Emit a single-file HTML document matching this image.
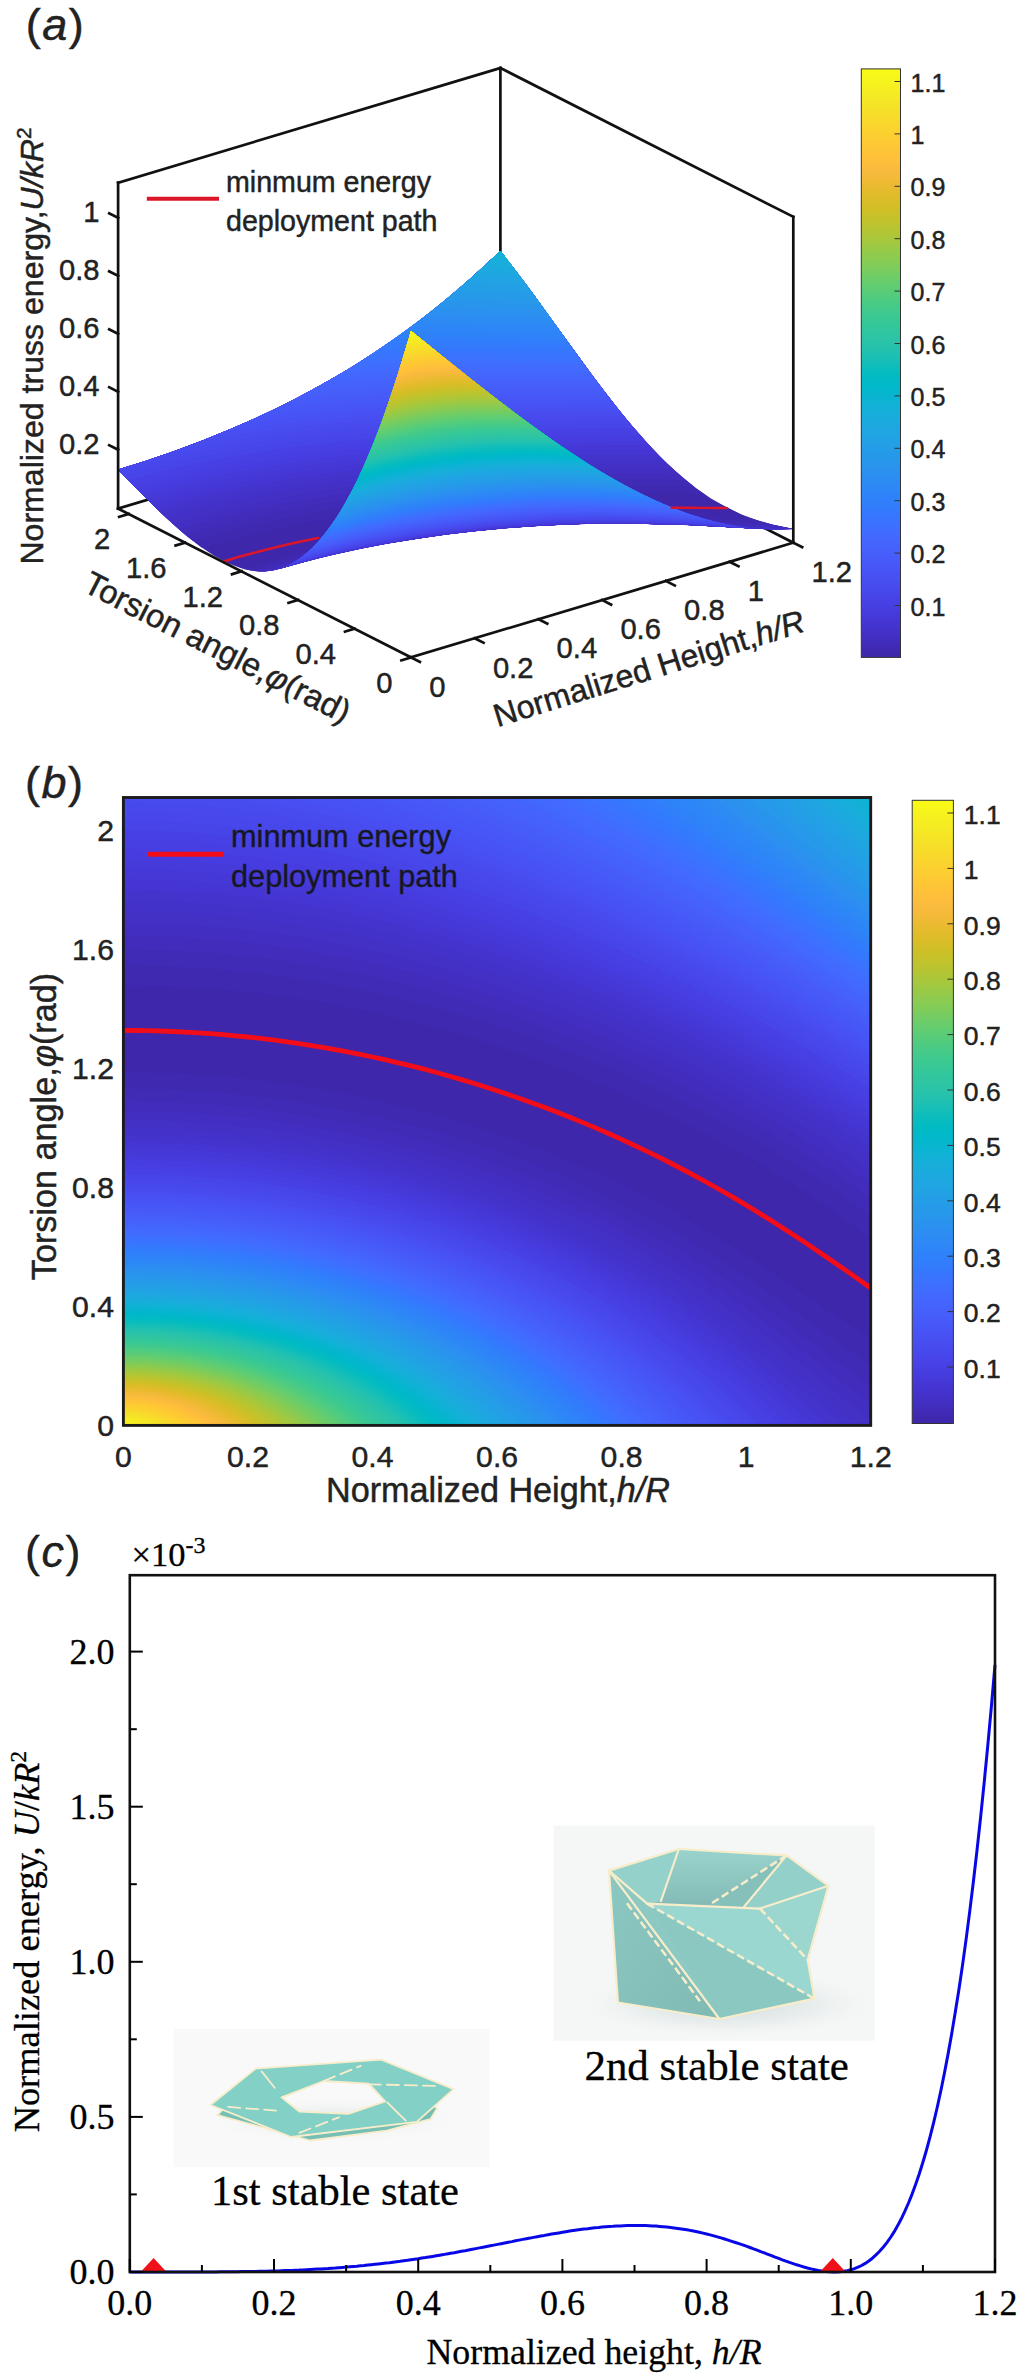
<!DOCTYPE html>
<html><head><meta charset="utf-8"><title>Figure</title>
<style>html,body{margin:0;padding:0;background:#fff}svg{display:block}#pa text,#pb text{stroke:#222;stroke-width:.45px}#pc text{stroke:#000;stroke-width:.3px}</style></head>
<body><svg width="1025" height="2378" viewBox="0 0 1025 2378">
<defs><linearGradient id="cb" x1="0" y1="0" x2="0" y2="1"><stop offset="0.0000" stop-color="#f9fb15"/><stop offset="0.0159" stop-color="#f7f51b"/><stop offset="0.0317" stop-color="#f6ef20"/><stop offset="0.0476" stop-color="#f5e924"/><stop offset="0.0635" stop-color="#f5e327"/><stop offset="0.0794" stop-color="#f7dc2a"/><stop offset="0.0952" stop-color="#fad62d"/><stop offset="0.1111" stop-color="#fccf30"/><stop offset="0.1270" stop-color="#fec934"/><stop offset="0.1429" stop-color="#fec338"/><stop offset="0.1587" stop-color="#febe3c"/><stop offset="0.1746" stop-color="#f8ba3d"/><stop offset="0.1905" stop-color="#f0ba36"/><stop offset="0.2063" stop-color="#e6bb2d"/><stop offset="0.2222" stop-color="#dcbd29"/><stop offset="0.2381" stop-color="#d1bf27"/><stop offset="0.2540" stop-color="#c5c22a"/><stop offset="0.2698" stop-color="#b9c431"/><stop offset="0.2857" stop-color="#abc739"/><stop offset="0.3016" stop-color="#9dc943"/><stop offset="0.3175" stop-color="#8fcb4e"/><stop offset="0.3333" stop-color="#81cc59"/><stop offset="0.3492" stop-color="#72cd64"/><stop offset="0.3651" stop-color="#64cd6f"/><stop offset="0.3810" stop-color="#57cc7a"/><stop offset="0.3968" stop-color="#4acb84"/><stop offset="0.4127" stop-color="#3fca8e"/><stop offset="0.4286" stop-color="#37c897"/><stop offset="0.4444" stop-color="#31c69f"/><stop offset="0.4603" stop-color="#2cc4a7"/><stop offset="0.4762" stop-color="#24c1ae"/><stop offset="0.4921" stop-color="#19bfb6"/><stop offset="0.5079" stop-color="#0bbdbd"/><stop offset="0.5238" stop-color="#02bac3"/><stop offset="0.5397" stop-color="#01b8ca"/><stop offset="0.5556" stop-color="#08b5d0"/><stop offset="0.5714" stop-color="#12b1d6"/><stop offset="0.5873" stop-color="#18addb"/><stop offset="0.6032" stop-color="#1ca9df"/><stop offset="0.6190" stop-color="#20a5e3"/><stop offset="0.6349" stop-color="#23a0e5"/><stop offset="0.6508" stop-color="#259be8"/><stop offset="0.6667" stop-color="#2797eb"/><stop offset="0.6825" stop-color="#2b91ef"/><stop offset="0.6984" stop-color="#2d8cf3"/><stop offset="0.7143" stop-color="#2e87f7"/><stop offset="0.7302" stop-color="#2f81fa"/><stop offset="0.7460" stop-color="#327cfc"/><stop offset="0.7619" stop-color="#3875fe"/><stop offset="0.7778" stop-color="#3e6fff"/><stop offset="0.7937" stop-color="#4269fe"/><stop offset="0.8095" stop-color="#4563fd"/><stop offset="0.8254" stop-color="#465efb"/><stop offset="0.8413" stop-color="#4758f8"/><stop offset="0.8571" stop-color="#4852f4"/><stop offset="0.8730" stop-color="#484df0"/><stop offset="0.8889" stop-color="#4747eb"/><stop offset="0.9048" stop-color="#4741e5"/><stop offset="0.9206" stop-color="#463cde"/><stop offset="0.9365" stop-color="#4537d5"/><stop offset="0.9524" stop-color="#4332cb"/><stop offset="0.9683" stop-color="#422ec0"/><stop offset="0.9841" stop-color="#402ab4"/><stop offset="1.0000" stop-color="#3e26a8"/></linearGradient></defs>
<rect width="1025" height="2378" fill="#fff"/>
<g id="pa" font-family="'Liberation Sans',Arial,sans-serif">
<g stroke-linecap="square">
<line x1="118.1" y1="508.6" x2="500.4" y2="393.9" stroke="#111" stroke-width="2.7"/>
<line x1="793.3" y1="542.7" x2="500.4" y2="393.9" stroke="#111" stroke-width="2.7"/>
<line x1="500.4" y1="393.9" x2="500.4" y2="68" stroke="#111" stroke-width="2.7"/>
</g>
<g fill-rule="evenodd"><path d="M761.5 529l16 0.5 16-0.5-18.5-3.5-17-5-16.5-6-15.5-7.5-15-8.5-14.5-10-15-11.5-14.5-13.5-13-12.5-13.5-14.5-14-16.5-14.5-18.5-26-34.5-59.5-82-26-34-20 18.5-20.5 18.5-21 17.5-20.5 16-21.5 16-22.5 15-22 14.5-23.5 13.5-23.5 13-25 13-25.5 12-25.5 11-27 11-28 10.5-27.5 9.5-29 9 29 29.5 19.5 19 17 15 16 13 15 10 14 7.5 13.5 5 6.5 1.5 7 1 9 0.5 9-1.5 33-9 27.5-6.5 29.5-6.5 31.5-6 27-4 27.5-4 56-6 30-2 30-1.5 30.5-1 30 0 61 1.5z" fill="#3e27ab"/>
<path d="M761.5 529l16 0.5 16-0.5-21.5-4.5-20.5-6-26 0-75.5-1-40 0.5-48 1-46.5 3-36 3-36.5 4-35 4.5-36 5.5-34 6.5-33 7-31.5 8-30 8.5 7 1.5 6.5 1 7 0 6.5-1 6.5-1 28-8 27-6.5 28-6.5 28.5-5 30.5-5 31.5-4.5 31.5-3.5 32-3 29.5-2 28.5-1 29.5-1 29 0 60 1.5zM705 495l0.5 0-10-7-10-8-18-16-18-18.5-19.5-22-16-19.5-18-23-66.5-91.5-29-38.5-20 18.5-20.5 18.5-21 17.5-20.5 16-21.5 16-22.5 15-22 14.5-23.5 13.5-23.5 13-25 13-25.5 12-25.5 11-27 11-28 10.5-27.5 9.5-29 9 30 30.5 20 19.5 18.5 16.5 16 12 26-7 26-7 27-6 29-6 28.5-5 31-5 33-4.5 32-3.5 33.5-3 35.5-3 35-2 36.5-1.5 36-1 33.5-0.5 31 0.5z" fill="#3f29b0"/>
<path d="M761.5 529l16 0.5 16-0.5-15-3-14-3.5-96.5-2-41 0-39 0.5-39 1.5-37 2.5-36 3-34 4-34 4.5-33.5 5.5-32.5 6-31.5 7-30 7.5-29.5 8 11 1 11-1 35-9.5 28.5-7 31.5-7 32.5-6 52.5-7.5 54.5-5.5 30-2 29.5-1.5 30.5-1 30 0 61 1.5zM693.5 486.5l0.5 0-19-15.5-16-15-17-18.5-17.5-20.5-30-38.5-65-89-29-38.5-20 18.5-20.5 18.5-21 17.5-20.5 16-21.5 16-22.5 15-22 14.5-23.5 13.5-23.5 13-25 13-25.5 12-25.5 11-27 11-28 10.5-27.5 9.5-29 9 44.5 45 16 14.5 14.5 12 25-7 26-7 27.5-6 27-5.5 29-5.5 31-4.5 30.5-4.5 32-3.5 34.5-3.5 33.5-2.5 70.5-4 69.5-1.5 34 0z" fill="#402bb6"/>
<path d="M761.5 529l16 0.5 16-0.5-19-4-87.5-2.5-38.5-0.5-35.5 0-35 0.5-34 1.5-34.5 2.5-34.5 3-33 4-33 4.5-32.5 5-31 6-31 7-29.5 7.5-28 8 9 0 8.5-1.5 31-8.5 26.5-6.5 30-6.5 30-6 27-4 28.5-4 28.5-3.5 29-3 30.5-2 30-1.5 30.5-1 30 0 61 1.5zM685 480l0.5 0-16.5-14.5-17.5-17-15.5-18-16.5-19.5-26.5-34-63.5-87.5-29-38.5-20 18.5-20.5 18.5-21 17.5-20.5 16-21.5 16-22.5 15-22 14.5-23.5 13.5-23.5 13-25 13-25.5 12-25.5 11-27 11-28 10.5-27.5 9.5-29 9 40.5 41 14 13 13 11.5 24-7 25.5-6.5 26.5-6 27.5-6 28-5 31-5 61-7.5 66.5-6.5 71.5-4 70.5-2 34.5 0z" fill="#412cbb"/>
<path d="M761.5 529l16 0.5 16-0.5-10.5-2-95-3.5-48-1-33 0.5-32.5 0.5-32.5 1.5-32.5 2.5-33.5 3-32 3.5-32.5 4.5-32 5.5-31 6-30 6.5-29 7-27.5 8 6-0.5 7-1 29-8 26.5-7 28-6 29-5.5 28-4.5 29-4.5 29-3.5 29.5-2.5 30-2.5 30-1.5 30.5-1 31 0 30.5 0.5 32 1zM678.5 474l-16-14.5-14-14.5-15-17-16.5-20-25-33-62.5-85.5-29-38.5-20 18.5-20.5 18.5-21 17.5-20.5 16-21.5 16-22.5 15-22 14.5-23.5 13.5-23.5 13-25 13-25.5 12-25.5 11-27 11-28 10.5-27.5 9.5-29 9 36 36.5 25 23 24-6.5 25.5-6.5 26-6 28-6 29-5 29-4.5 60.5-8 68.5-6.5 70-4 70.5-2z" fill="#422ec0"/>
<path d="M761.5 529l16 0.5 16-0.5-3-0.5-95.5-4-61-1.5-31.5 0.5-31.5 0.5-31 1.5-30.5 2-33 3-32 4-32 4.5-30.5 5-30 6-30 6.5-28 7-28 8 10-2 29.5-8 29-7.5 49.5-10 28.5-4.5 30-4.5 30-3.5 30.5-3 30-2.5 30-1.5 30.5-1 31 0 30.5 0.5 32 1zM672.5 469l-15.5-15-13-14.5-14-16-15.5-18.5-27.5-36.5-61-84-25.5-33.5-20 18.5-20.5 18.5-21 17.5-20.5 16-21.5 16-22.5 15-22 14.5-23.5 13.5-23.5 13-25 13-25.5 12-25.5 11-27 11-28 10.5-27.5 9.5-29 9 33 33.5 22 21 24-7 25.5-6.5 26-6 27.5-5.5 28-5 29-4.5 60.5-8 66.5-6 72-4.5 71.5-2z" fill="#4330c5"/>
<path d="M761.5 529l12.5 0.5 13.5 0-97.5-4.5-58.5-1.5-31 0-30.5 1-30.5 1.5-30 2-32 3-32 3.5-31 4.5-30.5 5-30 6-29.5 6-28 7.5-26.5 7.5 7-1.5 27-7.5 26.5-7 26-5.5 26.5-5 29.5-5 30-4.5 30-3.5 30.5-3 30-2.5 30-1.5 30.5-1 31 0 30.5 0.5 32 1zM667 463.5l-14.5-14.5-13-14-13.5-16-14.5-18-26.5-35-58.5-81-26-34-20 18.5-20.5 18.5-21 17.5-20.5 16-21.5 16-22.5 15-22 14.5-23.5 13.5-23.5 13-25 13-25.5 12-25.5 11-27 11-28 10.5-27.5 9.5-29 9 29.5 30 19.5 19 23.5-6.5 25.5-6.5 26-6 27.5-5.5 28-5 29-4.5 61-8 66.5-6 70-4.5 73.5-2z" fill="#4332ca"/>
<path d="M761.5 529l18 0.5-74-4-46-1.5 46.5 2zM362 548.5l6-1.5-48.5 10.5-23.5 6.5-22.5 6.5 45.5-12.5zM660.5 459l1.5 0-12.5-13.5-13.5-15-14-16.5-15-18.5-23.5-32-55.5-76.5-27.5-36-20 18.5-20.5 18.5-21 17.5-20.5 16-21.5 16-22.5 15-22 14.5-23.5 13.5-23.5 13-25 13-25.5 12-25.5 11-27 11-28 10.5-27.5 9.5-29 9 44 44 23.5-6.5 25-6.5 26.5-6 26.5-5.5 28-5 28.5-4.5 60-7.5 67-6 70-4.5 72-2.5z" fill="#4434ce"/>
<path d="M761.5 529l10.5 0.5-59-3.5zM657 454l0.5 0-12.5-13-13-14.5-25-31-23.5-32-55.5-76.5-27.5-36-20 18.5-20.5 18.5-21 17.5-20.5 16-21.5 16-22.5 15-22 14.5-23.5 13.5-23.5 13-25 13-25.5 12-25.5 11-27 11-28 10.5-27.5 9.5-29 9 39 39.5 23.5-7 24.5-6 25-6 27.5-5.5 28-5 29-4.5 60.5-7.5 66.5-6.5 70.5-4 73.5-2.5z" fill="#4536d3"/>
<path d="M651.5 449.5l1.5 0-24-26.5-26.5-34-21.5-29-52.5-72.5-28-36.5-20 18.5-20.5 18.5-21 17.5-20.5 16-21.5 16-22.5 15-22 14.5-23.5 13.5-23.5 13-25 13-25.5 12-25.5 11-27 11-28 10.5-27.5 9.5-29 9 34 34.5 23.5-6.5 24.5-6.5 25.5-5.5 26-5.5 27.5-5 29-4.5 60.5-7.5 66.5-6.5 70.5-4 73.5-2.5z" fill="#4538d7"/>
<path d="M648.5 445l-22.5-26-22.5-28.5-22-29.5-53-73.5-28-36.5-20 18.5-20.5 18.5-21 17.5-20.5 16-21.5 16-22.5 15-22 14.5-23.5 13.5-23.5 13-25 13-25.5 12-25.5 11-27 11-28 10.5-27.5 9.5-29 9 29 29.5 23.5-6.5 24.5-6 25.5-6 26.5-5 56-9.5 60.5-7.5 67.5-6 70-4.5 74-2.5z" fill="#463adb"/>
<path d="M644 441l1 0-21.5-25-23.5-30-71-97.5-28.5-37.5-20 18.5-20.5 18.5-21 17.5-20.5 16-21.5 16-22.5 15-22 14.5-23.5 13.5-23.5 13-25 13-25.5 12-25.5 11-27 11-28 10.5-27.5 9.5-29 9 24.5 25 22.5-6.5 24.5-6 25.5-6 26.5-5 55.5-9.5 61-7.5 66.5-6 71.5-4.5 74-2z" fill="#463cdf"/>
<path d="M640.5 436.5l0.5 0-20-23.5-21.5-28-70.5-96.5-28.5-37.5-20 18.5-20.5 18.5-21 17.5-20.5 16-21.5 16-22.5 15-22 14.5-23.5 13.5-23.5 13-25 13-25.5 12-25.5 11-27 11-28 10.5-27.5 9.5-29 9 20 20.5 22.5-6.5 24.5-6.5 24.5-5.5 26.5-5 55.5-9 60-7.5 67.5-6 72-4.5 75-2.5z" fill="#473fe2"/>
<path d="M637 432.5l0.5 0-18.5-22.5-21-26.5-69-95-28.5-37.5-20 18.5-20.5 18.5-21 17.5-20.5 16-21.5 16-22.5 15-22 14.5-23.5 13.5-23.5 13-25 13-25.5 12-25.5 11-27 11-28 10.5-27.5 9.5-29 9 15.5 15.5 22.5-6 24-6 24.5-5.5 26-5.5 27.5-5 28.5-4 60-7.5 67-6 72-4 75.5-2.5z" fill="#4741e5"/>
<path d="M633 428l0.5 0-18-21.5-20-26.5-66-90.5-29-38.5-20 18.5-20.5 18.5-21 17.5-20.5 16-21.5 16-22.5 15-22 14.5-23.5 13.5-23.5 13-25 13-25.5 12-25.5 11-27 11-28 10.5-27.5 9.5-29 9 11 11 22.5-6.5 24-6 24.5-5.5 26.5-5 54.5-9 60.5-7 67-6 72.5-4.5 76.5-2z" fill="#4744e8"/>
<path d="M629 424l1 0-15.5-19-17.5-23-67.5-92.5-29-38.5-20 18.5-20.5 18.5-21 17.5-20.5 16-21.5 16-22.5 15-22 14.5-23.5 13.5-23.5 13-25 13-25.5 12-25.5 11-27 11-28 10.5-27.5 9.5-29 9 6.5 6.5 24-7 26.5-6.5 27.5-6 29-5 30.5-5 32-4.5 34-4 35-3.5 63-4.5 65.5-3.5 68.5-2z" fill="#4747eb"/>
<path d="M626.5 420l0.5 0-16-20-17-22.5-64.5-88-29-38.5-20 18.5-20.5 18.5-21 17.5-20.5 16-21.5 16-22.5 15-22 14.5-23.5 13.5-23.5 13-25 13-25.5 12-25.5 11-27 11-28 10.5-27.5 9.5-29 9 2 2 25-7 26.5-6.5 27.5-6 30-5.5 52-8 57-6.5 65-5 72.5-4 75-2.5z" fill="#4849ed"/>
<path d="M622 416l1.5 0-29-37.5-65-89-29-38.5-17.5 16.5-18.5 16.5-18.5 15.5-18 14.5-19 14.5-19.5 14-19 12.5-20 13-20.5 12-21 11.5-21.5 11.5-22 10.5-23 10.5-23 10-24 9.5-24.5 9 42.5-8.5 46-7.5 51-6 54.5-5.5 60.5-4 64-3 66.5-1.5z" fill="#484cef"/>
<path d="M619.5 412l1 0-27.5-35-63.5-87.5-29-38.5-33 30-33 28-35.5 26.5-35.5 24.5-37.5 22.5-39 20.5-41.5 19.5-42.5 18 40.5-6.5 43.5-6 47.5-5 51.5-4 54.5-3 59-2.5 59.5-1z" fill="#484ef1"/>
<path d="M616.5 408.5l1 0-25-32.5-63-86.5-29-38.5-31 28.5-31 26.5-32 24.5-33.5 23-35 22-36 20-37.5 18.5-39.5 17.5 39.5-5.5 42.5-5 45-4 48-3 52-2.5 53.5-2 56.5-1z" fill="#4851f3"/>
<path d="M613.5 404.5l0.5 0-27.5-36.5-57-78.5-29-38.5-29 26.5-29 25.5-30.5 23.5-32 22.5-32.5 20.5-33.5 19.5-35 18-36 17 38-5 40-4 43-3 46.5-3 49-2 51.5-1.5 51.5-1z" fill="#4853f5"/>
<path d="M610.5 400.5l0.5 0-26-34.5-58.5-81-26-34-27 25-28 24-28.5 23-29.5 21-30.5 20-32 19-32.5 17.5-34 16.5 36.5-4 38.5-3.5 41.5-3 43.5-2 46-2 48-1 49.5-1z" fill="#4756f6"/>
<path d="M607 396.5l1 0-24-32-57-78.5-26.5-35-26.5 24.5-26 22.5-27 21.5-28 20.5-29 19.5-29.5 18-31 17-31.5 16 35-3.5 37.5-2.5 82.5-4.5 89.5-3z" fill="#4758f8"/>
<path d="M604 393l1.5 0-22.5-30-55-76-27.5-36-25 23-25.5 22-25.5 20.5-26 19.5-27 18.5-28 17.5-28.5 16.5-30.5 16 69.5-5.5 79-3.5 84.5-2z" fill="#475bf9"/>
<path d="M602 389l-72.5-99.5-29-38.5-24 22.5-24 20.5-24.5 20-25 19-26 18-26.5 17-27 15.5-28 15.5 68.5-5 75-3 81.5-1.5z" fill="#465dfa"/>
<path d="M599 385.5l0.5 0-66-91-33-43.5-22.5 21-23 20-23 19-24 18.5-24.5 17-25 16.5-26 15.5-26.5 15 66-4 72-2.5 77-1.5z" fill="#4660fb"/>
<path d="M595.5 381.5l1 0-67-92-29-38.5-21.5 20-21.5 19-22.5 18.5-23 18-23 16.5-24 16-24.5 15-25 14 63.5-3 70.5-2.5 73.5-1z" fill="#4562fc"/>
<path d="M593.5 378l0.5 0-62-85.5-31.5-41.5-21 19.5-20.5 18-21.5 18-21.5 17-22.5 16-22 15-23 14.5-24 14 61.5-2.5 67.5-2 70.5-0.5z" fill="#4465fd"/>
<path d="M590 374l1 0-61.5-84.5-29-38.5-20 18.5-20 18-20 16.5-20.5 16.5-21 15-21.5 15-22 14.5-22.5 13 60.5-2 64-1.5 67.5-0.5z" fill="#4368fd"/>
<path d="M588 370.5l0.5 0-56.5-78-31.5-41.5-18.5 17-19 17.5-19 16-20 16-20 14.5-20.5 14.5-21 14-21.5 13 58.5-2 62.5-1 64-0.5z" fill="#426afe"/>
<path d="M584.5 366.5l1 0-56-77-29-38.5-17.5 16.5-18.5 16.5-18.5 15.5-19 15.5-19 14.5-19 13.5-20 13-20 13 55.5-1.5 60.5-1z" fill="#406dfe"/>
<path d="M582.5 363l0.5 0-49-68-33.5-44-17 15.5-17.5 16-17.5 15-18 15-18.5 14-18.5 13-18 12.5-19.5 12.5 113.5-2z" fill="#3e70ff"/>
<path d="M579 359.5l1.5 0-51-70-29-38.5-33 30-33 28-35.5 26.5-36 24.5 108.5-1z" fill="#3b72fe"/>
<path d="M576.5 355.5l1 0-40.5-56-19.5-26.5-17-22-31 28.5-33 28-32.5 24.5-34 23.5 105-0.5z" fill="#3875fe"/>
<path d="M574.5 352l0.5 0-43.5-60-31-41-30.5 28-30 25.5-31 24-32.5 23 103-0.5z" fill="#3678fd"/>
<path d="M571 348.5l1.5 0-44-61-28-36.5-29 26.5-28.5 24.5-29.5 23-31 22 99 0.5z" fill="#337bfd"/>
<path d="M569 344.5l0.5 0-33-46-19-25.5-17-22-27 25-27.5 23.5-28.5 22.5-29 21 96.5 0.5z" fill="#317dfb"/>
<path d="M566.5 341l0.5 0-36-50-30.5-40-25.5 23.5-26.5 23-27 21.5-27 20z" fill="#3080fa"/>
<path d="M563 337.5l1.5 0-38-52.5-26-34-25 23-24.5 21.5-25.5 20.5-25.5 19z" fill="#2f83f9"/>
<path d="M561 333.5l1 0.5-36-49.5-25.5-33.5-23 21.5-23.5 20.5-23.5 19.5-25 18.5z" fill="#2e85f8"/>
<path d="M558.5 330l0.5 0-28-39-30.5-40-21.5 20-22.5 20-22 18-23.5 18z" fill="#2d87f6"/>
<path d="M556.5 326.5l-30.5-42-25.5-33.5-21 19.5-20.5 18-21.5 18-21.5 16.5z" fill="#2d8af5"/>
<path d="M553 323l1 0-30.5-42-23-30-19 18-20 17.5-20 17-20 16z" fill="#2d8cf3"/>
<path d="M550.5 319l1 0-20.5-28-30.5-40-18.5 17-18 16.5-18.5 15.5-19.5 15.5z" fill="#2c8ff1"/>
<path d="M548.5 315.5l0 0-23-32-25-32.5-17 15.5-17.5 16-17.5 15-17.5 14.5z" fill="#2b91ef"/>
<path d="M545 312l1 0-25-34-20.5-27-32 29.5-33 27.5z" fill="#2a93ed"/>
<path d="M542.5 308l1 0-23.5-32-19.5-25-29.5 27.5-30.5 26z" fill="#2895ec"/>
<path d="M540.5 304.5l0.5 0-18.5-25-22-28.5-28 26-27.5 23.5z" fill="#2798ea"/>
<path d="M537 301l1 0-20-27.5-17.5-22.5-25.5 23.5-26 22.5z" fill="#269ae9"/>
<path d="M535 297l0.5 0-35-46-23 21.5-24 21z" fill="#259ce7"/>
<path d="M532.5 293.5l-32-42.5-21.5 20-21.5 19z" fill="#249ee6"/>
<path d="M529 290l1 0-29.5-39-19 18-19.5 17.5z" fill="#23a0e5"/>
<path d="M527 286l-26.5-35-17.5 16.5-17 15.5z" fill="#22a2e4"/>
<path d="M523.5 282.5l1 0-24-31.5-30.5 28.5z" fill="#20a4e3"/>
<path d="M521.5 278.5l-21-27.5-27 25z" fill="#1fa6e1"/>
<path d="M518.5 275l0.5 0-18.5-24-23 21.5z" fill="#1da8e0"/>
<path d="M515 271l1 0-15.5-20-19 18z" fill="#1baade"/>
<path d="M513 267.5l-12.5-16.5-15.5 14.5z" fill="#1aacdd"/>
<path d="M510 263.5l0.5 0-10-12.5-12 11z" fill="#17aeda"/>
<path d="M506.5 259.5l1 0.5-7-9-8 7.5z" fill="#14b0d8"/>
<path d="M503.5 256l1 0-4-5-4.5 4z" fill="#11b1d6"/>
<path d="M500.5 252l1 0-1-1-1 1z" fill="#0db3d3"/>
<path d="M411 331l66 53 52.5 40 23.5 16.5 21.5 14.5 20.5 13.5 20 11.5 20 11 19 9 18 8 18.5 6.5 18.5 5.5 17.5 4.5 17.5 3 17.5 1.5-73-4-61-1.5-31.5 0-29.5 1-30 1.5-30 2-30.5 3-30.5 3.5-30 4.5-29 4.5-28 5.5-28 6-26.5 7-25 7 8.5-3.5 9.5-5 8.5-6.5 8.5-7.5 8.5-9.5 8.5-11 8.5-13 8-13.5 8.5-16.5 8-17 8-18.5 8-20 15.5-46z" fill="#3e27ab"/>
<path d="M411 331l66 53 52.5 40 23.5 16.5 21.5 14.5 20.5 13.5 20 11.5 20 11 19 9 18 8 18.5 6.5 18.5 5.5 17.5 4.5 17.5 3 17.5 1.5-73-4-61-1.5-31.5 0-29.5 1-30 1.5-30 2-30.5 3-30.5 3.5-30 4.5-29 4.5-28 5.5-28 6-26.5 7-25 7 8.5-3.5 9.5-5 8.5-6.5 8.5-7.5 8.5-9.5 8.5-11 8.5-13 8-13.5 8.5-16.5 8-17 8-18.5 8-20 15.5-46z" fill="#3f29b0"/>
<path d="M411 331l66 53 52.5 40 23.5 16.5 21.5 14.5 20.5 13.5 20 11.5 20 11 19 9 18 8 18.5 6.5 18.5 5.5 17.5 4.5 17.5 3 17.5 1.5-73-4-61-1.5-31.5 0-29.5 1-30 1.5-30 2-30.5 3-30.5 3.5-30 4.5-29 4.5-28 5.5-28 6-26.5 7-25 7 8.5-3.5 9.5-5 8.5-6.5 8.5-7.5 8.5-9.5 8.5-11 8.5-13 8-13.5 8.5-16.5 8-17 8-18.5 8-20 15.5-46z" fill="#402bb6"/>
<path d="M411 331l66 53 52.5 40 23.5 16.5 21.5 14.5 20.5 13.5 20 11.5 20 11 19 9 18 8 18.5 6.5 18.5 5.5 17.5 4.5 17.5 3 17.5 1.5-73-4-61-1.5-31.5 0-29.5 1-30 1.5-30 2-30.5 3-30.5 3.5-30 4.5-29 4.5-28 5.5-28 6-26.5 7-25 7 8.5-3.5 9.5-5 8.5-6.5 8.5-7.5 8.5-9.5 8.5-11 8.5-13 8-13.5 8.5-16.5 8-17 8-18.5 8-20 15.5-46z" fill="#412cbb"/>
<path d="M411 331l66 53 52.5 40 23.5 16.5 21.5 14.5 20.5 13.5 20 11.5 20 11 19 9 18 8 18.5 6.5 18.5 5.5 17.5 4.5 17.5 3 17.5 1.5-73-4-61-1.5-31.5 0-29.5 1-30 1.5-30 2-30.5 3-30.5 3.5-30 4.5-29 4.5-28 5.5-28 6-26.5 7-25 7 8.5-3.5 9.5-5 8.5-6.5 8.5-7.5 8.5-9.5 8.5-11 8.5-13 8-13.5 8.5-16.5 8-17 8-18.5 8-20 15.5-46z" fill="#422ec0"/>
<path d="M411 331l66 53 52.5 40 23.5 16.5 21.5 14.5 20.5 13.5 20 11.5 20 11 19 9 18 8 18.5 6.5 18.5 5.5 17.5 4.5 17.5 3 17.5 1.5-73-4-61-1.5-31.5 0-29.5 1-30 1.5-30 2-30.5 3-30.5 3.5-30 4.5-29 4.5-28 5.5-28 6-26.5 7-25 7 8.5-3.5 9.5-5 8.5-6.5 8.5-7.5 8.5-9.5 8.5-11 8.5-13 8-13.5 8.5-16.5 8-17 8-18.5 8-20 15.5-46z" fill="#4330c5"/>
<path d="M411 331l66 53 52.5 40 23.5 16.5 21.5 14.5 20.5 13.5 20 11.5 20 11 19 9 18 8 18.5 6.5 18.5 5.5 17.5 4.5 17.5 3 17.5 1.5-73-4-61-1.5-31.5 0-29.5 1-30 1.5-30 2-30.5 3-30.5 3.5-30 4.5-29 4.5-28 5.5-28 6-26.5 7-25 7 8.5-3.5 9.5-5 8.5-6.5 8.5-7.5 8.5-9.5 8.5-11 8.5-13 8-13.5 8.5-16.5 8-17 8-18.5 8-20 15.5-46z" fill="#4332ca"/>
<path d="M411 331l66 53 52.5 40 23.5 16.5 21.5 14.5 20.5 13.5 20 11.5 20 11 19 9 18 8 18.5 6.5 18.5 5.5 17.5 4.5 17.5 3 17.5 1.5-73-4-61.5-1.5-30 0-30.5 1-29.5 1.5-30 2-31 3-30 3.5-29.5 4-29.5 5-28.5 5.5-28 6-26.5 7-25 7 8.5-3.5 9.5-5 8.5-6.5 8.5-7.5 8.5-9.5 8.5-11 8.5-13 8-13.5 8.5-16.5 8-17 8-18.5 8-20 15.5-46z" fill="#4434ce"/>
<path d="M411 331l66 53 52.5 40 23.5 16.5 21.5 14.5 20.5 13.5 20 11.5 20 11 19 9 18 8 18.5 6.5 18.5 5.5 17.5 4.5 17.5 3 17.5 1.5-75-4-61.5-1.5-30 0-29 1-29.5 1-29.5 2.5-31 3-29.5 3.5-30 4-29 5-29 5.5-27 6-26.5 6.5-26 7.5 8.5-3.5 9.5-5 8.5-6.5 8.5-7.5 8.5-9.5 8.5-11 8.5-13 8-13.5 8.5-16.5 8-17 8-18.5 8-20 15.5-46z" fill="#4536d3"/>
<path d="M411 331l66 53 52.5 40 23.5 16.5 21.5 14.5 20.5 13.5 20 11.5 20 11 19 9 18 8 18.5 6.5 18.5 5.5 17.5 4.5 17.5 3 17.5 1.5-76-4.5-60-1.5-30.5 0-29 1-29.5 1.5-29 2-30 3-30 3.5-29.5 4-29.5 5-28.5 5.5-28.5 6.5-26 6.5-26 7 9-3.5 9-5 8.5-6.5 8.5-7.5 8.5-9.5 8-10.5 8.5-13 8-13.5 8.5-16.5 8-17 8-18.5 8-20 15.5-46z" fill="#4538d7"/>
<path d="M411 331l66 53 52 39.5 23 16.5 21.5 14.5 20.5 13.5 19.5 11 19.5 11 19.5 9.5 18 8 18.5 6.5 17.5 5.5 17.5 4.5 17.5 3 17 2-74-4.5-59.5-1.5-30 0-28.5 0.5-29.5 1.5-28.5 2-30.5 3-29.5 3.5-29.5 4-29 5-28 5.5-27.5 6-26.5 6.5-26 7.5 9-4 8.5-5 8.5-7 8.5-8 8.5-10 8-10.5 8-12.5 8-13.5 7.5-15.5 8-17 15.5-37.5 15.5-46z" fill="#463adb"/>
<path d="M411 331l64.5 52 51 39 22.5 16 21.5 14.5 19.5 13 19.5 11.5 19 10.5 19 9.5 18.5 8.5 17.5 6.5 17.5 6 17.5 4.5 17.5 3.5 16.5 2.5-70.5-4.5-59-1.5-29 0-29 0.5-29 1.5-28 2-30 2.5-28.5 3.5-30 4.5-28.5 4.5-27.5 5.5-27.5 6-26 6.5-25 7.5 8-4.5 9-5.5 8.5-7 7.5-8 8-9.5 8-11 8-12.5 8-14 8-15.5 7-16 15.5-37.5 15-44.5z" fill="#463cdf"/>
<path d="M411 331l63 50.5 51 39 43 30.5 20 13 19 11.5 19 10.5 18.5 9.5 17.5 8 17.5 7 17.5 6 16.5 5 17 3.5 16.5 3-68-4.5-58-2-28 0.5-29 0.5-28.5 1.5-28.5 2-29 2.5-29 3.5-28.5 4-28 5-27.5 5-27 6-26 7-25 7 8.5-5 8-5.5 8.5-7.5 8-8 8-10 8-11 8-13 7-13.5 8-15.5 7.5-16.5 14.5-36.5 15.5-44z" fill="#473fe2"/>
<path d="M411 331l62 50 49.5 38 43 30.5 20 13 18 11 18.5 10.5 18.5 9.5 17.5 8.5 17.5 7 16.5 6 17 5 16.5 4 16 3-66-4-57.5-2-27.5 0-29 1-27.5 1.5-28 2-28.5 2.5-28 3.5-28.5 4-28 4.5-27 5.5-26.5 6-25.5 6-24.5 7 8.5-5 8-6 8-7 8-9 8-10 7-10.5 8-13 7.5-13.5 7-15 7.5-16 14.5-37 15-42.5z" fill="#4741e5"/>
<path d="M411 331l60.5 49 49.5 37.5 42 30.5 19 12.5 18.5 11.5 18.5 10.5 18 9.5 17.5 8.5 17 7 16.5 6.5 17 5 16 4 15.5 3.5-63.5-4.5-56.5-1.5-28 0-27.5 0.5-28 1.5-27.5 2-28.5 3-28 3-27.5 4-28 5-26.5 5-25.5 5.5-25.5 6.5-24 7 8-5 8-6.5 8-7.5 7-8 8-10.5 7.5-11 7-12 7.5-14 14.5-31 15-37 14.5-43z" fill="#4744e8"/>
<path d="M411 331l59.5 48 49 37.5 41 29.5 19.5 13 18 11.5 18.5 10.5 17.5 9.5 16.5 8 17 7.5 16.5 6.5 16 5 16 4.5 16 3.5-63.5-4.5-55.5-1.5-27.5 0.5-27.5 0.5-28 1.5-26.5 2-27.5 2.5-28 3.5-27 4-26.5 4.5-26 5-25.5 5.5-24.5 6.5-24.5 6.5 8-5 7.5-6.5 8-8 7.5-8.5 7.5-10 7-11 7.5-12.5 7.5-13.5 14.5-32 14-36 14-41z" fill="#4747eb"/>
<path d="M411 331l59 47.5 47.5 37 41 29 36.5 24 17.5 10 17.5 10 17 8 16.5 8 16.5 6.5 16 5.5 16 4.5 15 3.5-61-4-55-1.5-26.5 0-27 0.5-27 1.5-27 2-26.5 2.5-27.5 3.5-27.5 4-26.5 4.5-26 5-25.5 5.5-24.5 6.5-23.5 6.5 7.5-5.5 8-6.5 7.5-8 7-8.5 7.5-10 7.5-11.5 7-12.5 7-13 14-30.5 14-36 14-41z" fill="#4849ed"/>
<path d="M411 331l58 47 47 36 41 29.5 35.5 23.5 17.5 10.5 17.5 9.5 17 8.5 16 7.5 15.5 6.5 16 5.5 15.5 5 15 3.5-60-4-54.5-1.5-27 0-26 1-27 1.5-26 1.5-27 3-27.5 3-25.5 4-26.5 4.5-25.5 5-25 5.5-24 6-23 6.5 7.5-5.5 7.5-6.5 7-7.5 7.5-9 7-10.5 7.5-11.5 14-26 14-31 13.5-34.5 14-41.5z" fill="#484cef"/>
<path d="M411 331l57.5 46.5 46 35.5 40 29 35.5 23.5 17.5 10.5 17 9.5 16.5 8.5 16 7.5 16 6.5 15 6 15.5 4.5 14.5 4-58-4-53.5-1.5-52.5 1-25.5 1.5-26.5 2-26.5 2.5-27.5 3-25.5 4-26 4.5-25 4.5-25 6-23.5 6-23 6.5 7.5-6 7-6.5 7.5-8.5 6.5-8.5 7.5-10 6.5-11 14-26 14-31.5 13.5-34.5 13.5-40z" fill="#484ef1"/>
<path d="M411 331l56 45 46 35.5 39 28.5 36 24 17.5 10.5 16.5 9.5 16 8.5 16 7.5 15 6.5 15 6 15.5 5 14.5 4-57.5-4-52-1.5-51.5 1-52 3.5-26.5 2.5-25.5 3-26 4-26 4.5-25 4.5-24.5 5.5-23 6-22.5 6.5 7-6 7.5-7 7-8.5 7-9 7.5-10.5 6.5-11 13.5-25.5 13.5-30.5 13.5-35 13-40z" fill="#4851f3"/>
<path d="M411 331l55 44.5 45.5 35 39 28.5 35 23.5 33.5 20 16 8.5 15 7 15 7 15 6 15.5 5 14.5 4.5-56.5-4-51.5-1-51.5 0.5-51 3.5-26 2.5-25.5 3-49.5 8-24.5 5-24.5 5.5-23 5.5-23 6.5 7.5-6 6.5-7 7.5-8.5 6.5-9 13.5-21 13.5-26 13.5-30.5 13-33.5 13-40z" fill="#4853f5"/>
<path d="M411 331l54 43.5 45 35 38 28 35 23.5 32.5 19.5 31.5 16 15 7 15 6.5 14.5 5 14 4.5-55.5-4-50.5-1-51 0.5-50 3.5-50 5.5-25.5 3.5-24.5 4.5-23.5 4.5-24.5 5.5-23 6-22 6 7.5-6.5 6.5-7 6.5-8 7-9 13.5-22 13-26 13-29.5 13-33.5 12.5-38.5z" fill="#4756f6"/>
<path d="M411 331l53.5 43 44.5 34.5 37.5 27.5 34 23.5 33 19.5 30 16 15 7 14.5 6 14.5 5.5 14.5 4.5-54.5-3.5-49.5-1.5-50 1-49.5 3.5-26 2.5-25 3-49 8-23.5 4.5-23 5-23 6-22 6 7-6 6.5-7.5 7-8 6.5-9.5 13.5-22 13-25.5 12.5-29.5 13-34 13-38.5z" fill="#4758f8"/>
<path d="M411 331l52.5 42.5 44 34 37.5 27.5 33.5 23 31.5 19.5 30.5 16 15 7.5 14.5 6 14 5.5 14 4.5-53-3.5-49.5-1.5-49 1-49 3.5-50 5.5-48 7.5-23.5 4.5-23 5.5-22 5.5-22 6.5 7-7 6.5-7.5 13-17.5 12.5-21 13-25.5 13-30 12-32.5 13-38.5z" fill="#475bf9"/>
<path d="M411 331l52 42 43 33.5 37 27.5 33.5 23 32 19.5 29.5 16 28.5 13 27.5 10.5-51.5-3.5-49.5-1.5-49 1-48 3.5-49 5.5-48 7.5-23.5 4.5-22.5 5.5-21.5 5.5-21 6 6.5-7 6.5-7.5 13-17.5 13-22 12-24.5 13-30 12-32.5 12.5-37z" fill="#465dfa"/>
<path d="M411 331l51 41 43 33.5 36.5 27.5 33 22 31 19.5 29.5 16.5 28.5 13.5 27 10-51-3.5-48.5-1-47.5 1-48 3-48 5.5-46.5 7.5-46 9.5-22 6-21 6 7-7.5 6-7 13-18 12.5-22 12.5-25 12-29 12-33 12.5-37z" fill="#4660fb"/>
<path d="M411 331l50 40.5 42.5 33 35.5 26.5 33 22.5 31 19.5 28.5 16 28 13.5 27.5 11-50.5-3.5-47.5-1-47.5 1-47 3-48 5.5-46 7.5-44.5 9.5-22 5.5-20.5 5.5 12.5-14 13-18.5 12-21.5 12.5-25 12-29 11.5-31.5 12.5-37z" fill="#4562fc"/>
<path d="M411 331l49.5 40 42 33 36 26.5 32 22 30 19.5 28.5 16 28 13.5 26.5 10.5-50-3-47-1.5-46 1-46.5 3.5-47.5 5-45.5 7.5-44.5 9.5-41.5 11 7-7.5 6-7.5 12-18 12.5-21.5 11.5-24.5 12-29 12-31.5 11.5-35.5z" fill="#4465fd"/>
<path d="M411 331l48.5 39.5 41.5 32 35 26.5 32 22 30 19.5 29 16 27 13.5 26 11-49-3.5-46.5-1-46 1-45 3-46.5 5.5-45 7-44 9.5-41.5 11 12-14.5 12.5-18 12-22 11.5-24 11.5-28 12-31.5 11.5-35.5z" fill="#4368fd"/>
<path d="M411 331l48 38.5 40.5 32 35 26 32 22.5 29.5 19 27.5 16 27 13.5 26 11-48.5-3-45-1-45.5 1-45.5 3-45.5 5-44.5 7.5-43.5 9-40.5 11 12.5-15.5 11.5-17.5 11.5-21 11.5-24.5 12-28 11.5-32 11.5-35.5z" fill="#426afe"/>
<path d="M411 331l48 38.5 39.5 31.5 34.5 25.5 31 22 29.5 19 28 16 26 13.5 25.5 11.5-46.5-3.5-45-1-45 1-45 3-45.5 5.5-44 7-42.5 9-40 11 12-15.5 12-18 11.5-21.5 11-23.5 11.5-28 11-30.5 11.5-35.5z" fill="#406dfe"/>
<path d="M411 331l46 37.5 40 31 34.5 26 31 21.5 29.5 19.5 27 16 26 13.5 25 11-46.5-3-45-1-43.5 1-44.5 3-44.5 5-43.5 7-42 9-39.5 11 12-15.5 11.5-18.5 11.5-22 11-23.5 11-27.5 11-30 11-34z" fill="#3e70ff"/>
<path d="M411 331l46 37.5 39 30.5 33.5 25 30.5 21.5 28.5 19 27 16 26.5 14 24.5 11-46-3-44-1-43.5 1-42.5 3-44 5-43.5 7.5-42 8.5-38.5 10.5 11-14.5 11.5-18.5 11.5-22 11-24 11-27.5 11-30.5 11-34z" fill="#3b72fe"/>
<path d="M411 331l45.5 37 38 30 33.5 25 30.5 21.5 28.5 19 26.5 15.5 25.5 14 24.5 11-45-2.5-43.5-1-43.5 1-42.5 3-44 5-41.5 7-41 8.5-39 10.5 12-16 11-18 11-21 11-24 11-27.5 10-29 11-34z" fill="#3875fe"/>
<path d="M411 331l44.5 36 38.5 30 33.5 25.5 29.5 21 27.5 18.5 26.5 16 25.5 13.5 23.5 11.5-44.5-3-42-1-42.5 1-42.5 3-43 5-42.5 7-40 8.5-38 10.5 11-15 11-18.5 11-21 11-24.5 11-27.5 10.5-29 10-32.5z" fill="#3678fd"/>
<path d="M411 331l44 35.5 37 29.5 33 24.5 29.5 21.5 27.5 18.5 26.5 16 24.5 13.5 24 11.5-43-2.5-42.5-1-42.5 1-41 3-42.5 4.5-41 7-40 8.5-38 10.5 10.5-15.5 11-18.5 11-21.5 10.5-23.5 10.5-26 10.5-29 10-32.5z" fill="#337bfd"/>
<path d="M411 331l43 35 37.5 29.5 32.5 24.5 29 20.5 27.5 19 25.5 15.5 25 14 23 11-43.5-2.5-42-1-41 1-41 3-41.5 5-41 6.5-39 8.5-37.5 10 11-15.5 11-19 10-20.5 10.5-23.5 10.5-26 10.5-29.5 10-32.5z" fill="#317dfb"/>
<path d="M411 331l43 35 36.5 28.5 32 24.5 28.5 20.5 27.5 18.5 25 15.5 24 13.5 23.5 11.5-42.5-2.5-41.5-0.5-40 1-41.5 2.5-41 5-40 6.5-39.5 8.5-36 10 10.5-16 10.5-18 10.5-21 10-23.5 10.5-26.5 10-27.5 10-32.5z" fill="#3080fa"/>
<path d="M411 331l42 34 37 29 31 23.5 28.5 21 26.5 18 25.5 15.5 23.5 14 23 11.5-42.5-3-40-0.5-40.5 1-40.5 3-40.5 4.5-40.5 7-38 8-35.5 10 11-16.5 10-18.5 10.5-21 10-22.5 10-26.5 10-28 9.5-30.5z" fill="#2f83f9"/>
<path d="M411 331l41.5 33.5 36 28.5 31 23.5 27.5 20 26.5 18 24.5 16 24 13.5 23 12-41.5-2.5-40-1-39.5 1-39.5 3-39.5 4.5-40.5 7-37.5 8-35.5 9.5 10-15.5 10.5-18.5 10-21 10-23 9.5-25 10-28 9.5-30.5z" fill="#2e85f8"/>
<path d="M411 331l40.5 33 35 27.5 31 24 28 20 25.5 17.5 25 16 23.5 14 22.5 11.5-40.5-2.5-39.5-0.5-39.5 1-39 2.5-40 5-38 6-37.5 8.5-35.5 9.5 10-16 10.5-19 10-20 9.5-23 10-25 9.5-28 10-31z" fill="#2d87f6"/>
<path d="M411 331l75 60 30 23 28 20.5 25.5 17.5 24.5 16 23.5 13.5 21.5 11.5-40.5-2.5-38-0.5-38.5 1-39 3-39.5 4.5-37.5 6-37.5 8-35 9.5 10.5-16 9.5-18 10-20.5 9.5-23 10-25.5 9-26 10-31z" fill="#2d8af5"/>
<path d="M411 331l74 59.5 30.5 23 27 20 25.5 17.5 24 15.5 22 13 22 12-39.5-2.5-38-0.5-38.5 1-38 3-38 4.5-38 6-36.5 8-34.5 9.5 9.5-15.5 10-18 9.5-21 9-21.5 10-25.5 9-26 10-31z" fill="#2d8cf3"/>
<path d="M411 331l73.5 59 29 22.5 27.5 19.5 24.5 17.5 24 15.5 22 13.5 22 11.5-39-2-38-1-38.5 1.5-37.5 2.5-38.5 4.5-36.5 6.5-35.5 7.5-34 9 9.5-15.5 9.5-17.5 9.5-20.5 9.5-22 9.5-25.5 9-26.5 9.5-29z" fill="#2c8ff1"/>
<path d="M411 331l72.5 58 29.5 22.5 26 19.5 25 17.5 23 15 22.5 13.5 21 11.5-38-2-38-0.5-37 1-36.5 2.5-38 4.5-37 6-35 8-34 9 10-16.5 9-17.5 9-19.5 9.5-22 9-24 9-26.5 9.5-29z" fill="#2b91ef"/>
<path d="M411 331l71 57 28.5 22 26.5 19.5 24.5 17 23 15.5 22.5 13.5 20.5 11.5-38.5-2-36.5-0.5-36 1-37 2.5-36.5 4.5-36 6-35 7.5-33.5 9 9-15.5 9-17.5 9.5-20 9-22 9-24 9.5-27 9-29z" fill="#2a93ed"/>
<path d="M411 331l69.5 55.5 28.5 22 26 19.5 24 17 23 15.5 21.5 13 21.5 12-38-2-36.5-0.5-36 1-36 3-36.5 4-36 6-34.5 7.5-32 9 9.5-16 9-18 9-20 8.5-21 9.5-24.5 8.5-25 9-29z" fill="#2895ec"/>
<path d="M411 331l68.5 55 28.5 22 25.5 19 24 17 22.5 15 21.5 13 20.5 12-37-2-35.5-0.5-35.5 1-35.5 3-36 4-36 6-34 7.5-32 8.5 9-15.5 9-18 9-20 8.5-21 9.5-24.5 8.5-25 8.5-27.5z" fill="#2798ea"/>
<path d="M411 331l67.5 54.5 53.5 40.5 24 17 22.5 15 20.5 13 20.5 11.5-36.5-2-35.5-0.5-35 1-35 3-36 4-34 6-33.5 7-32.5 9 9-16 8.5-17 9.5-20.5 8.5-21 8.5-23 8.5-25 8.5-27.5z" fill="#269ae9"/>
<path d="M411 331l67 54 52.5 39.5 23 16.5 22.5 15.5 20.5 13 20 11.5-36-2-35-0.5-34.5 1.5-35 2.5-35 4-34 6-33 7-31.5 8.5 9.5-16.5 8.5-17.5 8.5-19 8.5-21 8.5-23.5 8.5-25z" fill="#259ce7"/>
<path d="M411 331l66 53 52 39.5 23 16.5 21.5 14.5 20.5 13.5 20 11.5-35.5-2-34 0-34.5 1-34 2.5-35 4-33.5 6-32.5 7-31.5 8.5 9-16 8.5-17.5 8.5-19.5 8-19.5 8.5-23.5 8.5-25z" fill="#249ee6"/>
<path d="M411 331l64.5 52 52 39.5 23 16.5 21.5 14.5 20 13 19.5 11.5-35-2-33.5 0-34.5 1-33.5 2.5-33.5 4-33.5 5.5-32.5 7.5-31 8 8.5-15.5 8.5-17.5 8.5-19.5 8-20 8.5-23 8-23.5z" fill="#23a0e5"/>
<path d="M411 331l63.5 51.5 51 38.5 22.5 16.5 21.5 14.5 20 13 19 11.5-34-2-34 0-33 1-33.5 2.5-33 4-34 6-31.5 6.5-30 8 9-15.5 7.5-16.5 8.5-20 8-20 8.5-23.5 8-23.5z" fill="#22a2e4"/>
<path d="M411 331l63 50.5 50 38.5 43 30.5 20 13 19 11.5-34-2-33.5 0-33 1-32.5 2.5-33.5 4-32 5.5-31 7-30 8 8.5-15.5 8.5-18 8-18.5 8-20 15.5-45.5z" fill="#20a4e3"/>
<path d="M411 331l62 50 49.5 38 43 30.5 19 12.5 19 11.5-33.5-1.5-32.5-0.5-32.5 1-32.5 2.5-32.5 4-32.5 5.5-31 7-29 7.5 8.5-16 8-17 8-18.5 8-20 15.5-46z" fill="#1fa6e1"/>
<path d="M411 331l60.5 49 49.5 37.5 42 30.5 19 12.5 19 11.5-33-1.5-32.5-0.5-32 1-32 2.5-32 4-31 5-31 7-29 8 8-15.5 8-17 15.5-37.5 15.5-46z" fill="#1da8e0"/>
<path d="M411 331l59.5 48 49 37.5 41 29.5 19.5 13 18.5 11.5-33-2-31 0-32 1-31 2.5-31.5 4-31 5-30.5 6.5-29 8 8-15 7.5-17 15.5-37.5 15-44.5z" fill="#1baade"/>
<path d="M411 331l59 47.5 47.5 37 41.5 29.5 37 24-32.5-2-31 0-31 1-31 2.5-31 4-30.5 5-30 6.5-28.5 7.5 8-15.5 7.5-16 15-38 15.5-44z" fill="#1aacdd"/>
<path d="M411 331l58 47 47 36 41 29.5 36.5 24-32.5-2-30.5 0-31 1-30.5 2.5-30.5 4-31 5-28.5 6.5-27.5 7.5 7.5-15 8-17.5 14.5-37 15-42.5z" fill="#17aeda"/>
<path d="M411 331l57.5 46.5 46 35.5 40 29 36.5 24-30.5-2-31 0-30 1-30.5 2.5-30.5 3.5-29.5 5-28 6.5-28.5 7.5 8-16 7-16 15-37 14.5-43z" fill="#14b0d8"/>
<path d="M411 331l56 45 46 35.5 40 29 35 23.5-31.5-1.5-29.5 0-29.5 1-29.5 2.5-29.5 3.5-30 5.5-28.5 6-26.5 7 7.5-15 7.5-16.5 14-35.5 14.5-43z" fill="#11b1d6"/>
<path d="M411 331l55 44.5 45.5 35 39 28.5 35.5 23.5-30.5-1.5-29.5 0-29.5 1-29.5 2.5-29.5 3.5-28.5 5-27.5 6-27 7.5 14.5-31.5 14-36 14-41z" fill="#0db3d3"/>
<path d="M411 331l55 44.5 44.5 34.5 38.5 28 34.5 23-30-1.5-28.5 0-28.5 1-29.5 2.5-29.5 3.5-28 5-27.5 6-26.5 7 14-31 14-36 14-41.5z" fill="#08b4d1"/>
<path d="M411 331l53.5 43 44.5 34.5 37.5 27.5 34.5 23.5-30-1.5-28 0-28.5 1-28 2.5-28.5 3.5-28.5 4.5-27.5 6-25.5 7 13.5-30.5 14-36 13.5-40z" fill="#05b6ce"/>
<path d="M411 331l52.5 42.5 44 34 37.5 27.5 33.5 23-28.5-1.5-28 0-28.5 1-28 2-28.5 4-27.5 4.5-26.5 6-26 7 13.5-30.5 13.5-34.5 13.5-40z" fill="#02b7cb"/>
<path d="M411 331l52 42 43 33.5 36.5 27 33.5 23-28-1.5-28 0-27.5 1-28 2-28.5 4-27 4.5-26 5.5-25 7 13.5-30 13.5-35 13-40z" fill="#01b8c8"/>
<path d="M411 331l51 41 42 33 37 27 32.5 22.5-28-1-28 0-27 1-27 2-27.5 3.5-26.5 4.5-25.5 6-25 6.5 13.5-31 13-33.5 12.5-38.5z" fill="#01bac5"/>
<path d="M411 331l49.5 40 42 33 36 26.5 32.5 22.5-27.5-1-27 0-27 1-27 2-26.5 3.5-26.5 4.5-25.5 5.5-24 6.5 12.5-29 13-33.5 12.5-38.5z" fill="#03bbc2"/>
<path d="M411 331l48.5 39.5 41.5 32 36 27 31.5 22-26-1-27-0.5-27 1.5-26 2-26.5 3.5-27 4.5-25 5.5-23 6.5 12-29 13-34 13-38.5z" fill="#07bcbf"/>
<path d="M411 331l48 38.5 40.5 32 35 26 32 22.5-26.5-1.5-27 0-25.5 1-26 2.5-26.5 3-25.5 4.5-25 5.5-23 6.5 13-30 12-32.5 12.5-37z" fill="#0cbdbc"/>
<path d="M411 331l48 38.5 39.5 31.5 34.5 25.5 31 22-26.5-1.5-25.5 0-25.5 1-25 2-25.5 3.5-25 4-24 5.5-24.5 6.5 12.5-29.5 12-33 12.5-37z" fill="#12beb9"/>
<path d="M411 331l46 37.5 40 31 34.5 26 30 21-26.5-1-25 0-24.5 1-25 2-25.5 3.5-25.5 4.5-24 5-22 6 12-29 11.5-31.5 12.5-37z" fill="#18bfb6"/>
<path d="M411 331l45.5 37 39 30.5 33.5 25 30 21.5-25-1-25 0-25 1-25 2-24 3-24.5 4.5-24 5-22.5 6.5 12-29 12-31.5 11.5-35.5z" fill="#1dc0b3"/>
<path d="M411 331l44.5 36 38.5 30 33.5 25.5 29.5 21-25-1-25.5 0-24.5 1-24 2-24 3-23.5 4.5-23 5-22.5 6 12-28.5 11.5-32 11.5-35.5z" fill="#22c1b0"/>
<path d="M411 331l44 35.5 37 29.5 33 24.5 29.5 21.5-23.5-1-24.5 0-24.5 1-24 2-24 3-23.5 4-23 5-21.5 6 11.5-28 11-30.5 11.5-35.5z" fill="#26c2ac"/>
<path d="M411 331l43 35 37.5 29.5 32 24 28.5 20.5-23.5-0.5-24 0-23.5 1-24 2-24 3-23 4-22 5-21.5 5.5 11.5-28 11-30 11-34z" fill="#2ac3a9"/>
<path d="M411 331l42 34 37 29 31.5 24.5 28.5 20-24-1-23 0-23 1-23 2-23 3-23 4-22 5-21.5 5.5 11-27.5 11-30.5 11-34z" fill="#2dc4a6"/>
<path d="M411 331l41.5 33.5 36 28.5 31 23.5 28 20.5-22.5-1-23 0-23.5 1-22.5 2-22.5 3-22.5 4-22 4.5-20.5 6 11-27.5 10-29 11-34z" fill="#2fc5a2"/>
<path d="M411 331l40.5 33 35 27.5 31 24 27.5 20-22.5-1-22.5 0-22.5 1-22.5 2-22.5 3-21.5 3.5-21 5-21 5.5 11-27 10.5-29 10-32.5z" fill="#32c69f"/>
<path d="M411 331l74 59.5 30.5 23 27.5 20-23-0.5-21.5 0-22 1-21.5 1.5-22.5 3-21.5 4-21 4.5-20 5.5 10.5-26.5 10.5-29.5 10-32.5z" fill="#34c79b"/>
<path d="M411 331l73.5 59 29 22.5 27 19.5-23-1-21 0.5-21 1-22 1.5-21 3-21.5 3.5-20.5 4.5-19.5 5.5 10-26.5 10-27.5 10-32.5z" fill="#37c897"/>
<path d="M411 331l71.5 57.5 29.5 22.5 26.5 19.5-22-1-21.5 0-21 1-21.5 2-20.5 3-21 3.5-20.5 4.5-19 5 10-26 10-28 9.5-30.5z" fill="#3ac993"/>
<path d="M411 331l70 56.5 29 22 26 19.5-20.5-1-21.5 0-21 1-20.5 2-20 2.5-20.5 3.5-20.5 4.5-19 5 9-24 10-28 9.5-30.5z" fill="#3eca8f"/>
<path d="M411 331l68.5 55 28.5 22 26 19-21-0.5-20 0-21 1-20.5 2-20.5 2.5-20 3.5-19 4-19 5.5 9.5-24 9.5-28 10-31z" fill="#43ca8b"/>
<path d="M411 331l67.5 54.5 53 40-21-0.5-20 0-19.5 1-20 1.5-21 3-19.5 3.5-18.5 4-18 5 9.5-25.5 9-26.5 9.5-29z" fill="#47cb87"/>
<path d="M411 331l66 53 52.5 40-20-1-20 0.5-20 0.5-19.5 2-20 2.5-18.5 3.5-18.5 4-18.5 5 9-23.5 9-26.5 9.5-29z" fill="#4dcc82"/>
<path d="M411 331l64.5 52 51.5 39.5-20-1-19 0-18.5 1-20 2-19.5 2.5-19 3-18.5 4.5-17 4.5 8.5-23 9.5-27 9-29z" fill="#53cc7e"/>
<path d="M411 331l63 50.5 51 39-19-0.5-19 0-18.5 1-19.5 1.5-19 2.5-19 3.5-17.5 4-17.5 4.5 9-23 9-26.5 8.5-27.5z" fill="#58cc79"/>
<path d="M411 331l62 50 49.5 38-19-0.5-19 0-18.5 1-18 1.5-19 2.5-18 3-18 4.5-16 4 8.5-22.5 8.5-25 8.5-27.5z" fill="#5ecd74"/>
<path d="M411 331l60.5 49 49 37.5-18.5-1-18.5 0.5-18.5 0.5-18 2-18.5 2.5-17 3-17.5 3.5-16.5 4.5 8.5-22.5 8.5-25z" fill="#64cd6f"/>
<path d="M411 331l59 47.5 48 37-18-0.5-17.5 0-17.5 1-18.5 1.5-18 2.5-17 3-16.5 4-16.5 4.5 16-46z" fill="#6acd6a"/>
<path d="M411 331l58 47 47 36-18.5-0.5-17.5 0-17.5 1-17 1.5-17 2.5-17 3-16.5 3.5-16 4.5 16-46z" fill="#70cd65"/>
<path d="M411 331l56.5 45.5 46.5 36-18-0.5-16 0-17.5 1-17 1.5-17 2-17 3-16 3.5-15.5 4.5 15.5-46z" fill="#77cc60"/>
<path d="M411 331l55 44.5 45.5 35-16.5-0.5-17.5 0.5-16 0.5-17.5 1.5-17 2.5-15.5 3-16 3.5-15 4 15-44z" fill="#7dcc5b"/>
<path d="M411 331l54 43.5 44.5 34.5-17-0.5-16 0-16.5 1-16.5 1.5-16.5 2-16 3-15 3.5-14.5 4 15-43.5z" fill="#84cc56"/>
<path d="M411 331l52.5 42.5 43.5 34-15.5-0.5-16.5 0-16 1-15.5 1.5-15.5 2-16 2.5-15 3.5-15 4 14.5-41.5z" fill="#8bcb51"/>
<path d="M411 331l51 41 43 33.5-16-0.5-15 0.5-16 0.5-16.5 1.5-15 2-15 3-14.5 3.5-14 3.5 14-41.5z" fill="#91ca4c"/>
<path d="M411 331l50 40.5 42 32.5-15.5-0.5-16 0.5-15 0.5-15 1.5-15 2-14.5 2.5-14.5 3.5-14 3.5 14-41.5z" fill="#97ca47"/>
<path d="M411 331l48.5 39.5 41 32-29-0.5-15 1-15 1-15 2-14.5 3-14.5 3-13.5 3.5 13.5-39.5z" fill="#9ec942"/>
<path d="M411 331l47 38 40.5 31.5-14.5 0-15 0-28.5 2-15 2-14 2.5-13 3-13.5 3.5 13-39.5z" fill="#a4c83e"/>
<path d="M411 331l46 37.5 39.5 30.5-28.5 0-28 2-14 1.5-14 2.5-14 3.5-12.5 3 12.5-37.5z" fill="#aac73a"/>
<path d="M411 331l44.5 36 38.5 30.5-27.5-0.5-27.5 2-27 4.5-13.5 3-12 3.5 12.5-38z" fill="#b0c636"/>
<path d="M411 331l44 35.5 37 29-26.5 0-28 2-26 4-24.5 6.5 12-36z" fill="#b6c532"/>
<path d="M411 331l42 34 37 29-27 0-25.5 2-26 4-24 6 12-36z" fill="#bcc42f"/>
<path d="M411 331l40.5 33 36 28.5-26-0.5-25 2-25 4-23 6 11-34z" fill="#c2c32c"/>
<path d="M411 331l74.5 59.5-25 0-24.5 2-24 3.5-23 6 11-34z" fill="#c7c12a"/>
<path d="M411 331l72.5 58-23 0-24.5 1.5-24 4-22.5 5.5 11-34z" fill="#ccc028"/>
<path d="M411 331l70 56.5-23-0.5-23.5 2-23 3.5-21 5.5 10-32z" fill="#d2bf27"/>
<path d="M411 331l68 54.5-23.5 0-22 2-22 3.5-20.5 5 10-32z" fill="#d7be28"/>
<path d="M411 331l66 53-21.5 0-22 1.5-21.5 3.5-20.5 5 9.5-30z" fill="#dbbd29"/>
<path d="M411 331l64 51.5-21-0.5-21 2-21 3-19.5 5 9.5-30z" fill="#e0bc2a"/>
<path d="M411 331l61.5 49.5-19.5 0-21 1.5-20.5 3.5-18.5 4.5 9-28z" fill="#e5bb2c"/>
<path d="M411 331l59.5 48-20 0-19.5 1.5-19.5 3-18 4.5 9-28z" fill="#e9bb30"/>
<path d="M411 331l57.5 46.5-19.5-0.5-18.5 1.5-18.5 3-17.5 4.5z" fill="#edba33"/>
<path d="M411 331l55.5 44.5-18.5 0-18.5 1.5-17.5 3-17 4z" fill="#f1ba37"/>
<path d="M411 331l53 43-17.5 0-17.5 1.5-17 2.5-16.5 4z" fill="#f5ba3a"/>
<path d="M411 331l51 41-16.5 0-16.5 1.5-16.5 2.5-16 4z" fill="#f8ba3d"/>
<path d="M411 331l49 39.5-16 0-16.5 1.5-15.5 2.5-15 3.5z" fill="#fbbc3d"/>
<path d="M411 331l47 38-15 0-16.5 1-15.5 2.5-13.5 3.5z" fill="#febd3c"/>
<path d="M411 331l44.5 36-14 0-15.5 1.5-14.5 2-13.5 3.5z" fill="#fec03b"/>
<path d="M411 331l42.5 34.5-13.5 0-14 1-14.5 2.5-12.5 3z" fill="#fec239"/>
<path d="M411 331l40.5 33-13.5 0-13.5 1-13 2-12 3z" fill="#fec537"/>
<path d="M411 331l38.5 31-12 0-13 1-12.5 2-12 3z" fill="#fec835"/>
<path d="M411 331l36.5 29.5-12.5 0-12 1-11.5 2-11 2.5z" fill="#fdca33"/>
<path d="M411 331l34 28-11 0-11 0.5-12 2-9.5 2.5z" fill="#fdcd31"/>
<path d="M411 331l32 26-10.5 0-11 1-10 1.5-9.5 2.5z" fill="#fcd030"/>
<path d="M411 331l30 24.5-9.5 0-10 0.5-10 2-9 2z" fill="#fbd32e"/>
<path d="M411 331l28 22.5-9 0-9 1-9 1.5-9 2z" fill="#fad62d"/>
<path d="M411 331l26 21-9.5 0-7.5 0.5-8.5 1.5-8 2z" fill="#f8d92c"/>
<path d="M411 331l23.5 19.5-7 0-9 0.5-14 3z" fill="#f7dc2a"/>
<path d="M411 331l21.5 17.5-14 0.5-13.5 3z" fill="#f6de29"/>
<path d="M411 331l19.5 16-12.5 0.5-12.5 2.5z" fill="#f5e128"/>
<path d="M411 331l17.5 14-10.5 0.5-12 2.5z" fill="#f5e427"/>
<path d="M411 331l15.5 12.5-11 0.5-9 2z" fill="#f5e725"/>
<path d="M411 331l13.5 11-9 0-8 2z" fill="#f5ea24"/>
<path d="M411 331l11 9-7 0.5-7 1.5z" fill="#f5ec22"/>
<path d="M411 331l9 7.5-6 0.5-5.5 1z" fill="#f6ef20"/>
<path d="M411 331l7 6-4.5 0-4.5 1z" fill="#f6f21e"/>
<path d="M411 331l5 4-6.5 1z" fill="#f7f41c"/>
<path d="M411 331l3 2.5-4 0.5z" fill="#f8f719"/></g>
<polyline points="223.7,561.3 226.9,560.4 230.1,559.4 233.4,558.5 236.6,557.6 239.9,556.6 243.1,555.7 246.4,554.8 249.7,553.9 253,553 256.4,552.2 259.7,551.3 263.1,550.4 266.5,549.6 269.9,548.7 273.3,547.9 276.7,547 280.2,546.2 283.6,545.4 287.1,544.6 290.6,543.8 294.1,543 297.6,542.2 301.2,541.4 304.7,540.7 308.3,539.9 311.9,539.2 315.5,538.4 319.1,537.7" fill="none" stroke="#dc1628" stroke-width="2.6"/>
<polyline points="670.6,507.7 675.8,507.7 681,507.7 686.2,507.8 691.4,507.8 696.6,507.8 701.8,507.9 707.1,507.9 712.3,508 717.6,508 722.9,508 728.1,508.1" fill="none" stroke="#dc1628" stroke-width="2.4"/>
<g stroke-linecap="square">
<line x1="118.1" y1="508.6" x2="118.1" y2="182.7" stroke="#111" stroke-width="2.7"/>
<line x1="118.1" y1="182.7" x2="500.4" y2="68" stroke="#111" stroke-width="2.7"/>
<line x1="500.4" y1="68" x2="793.3" y2="216.8" stroke="#111" stroke-width="2.7"/>
<line x1="793.3" y1="216.8" x2="793.3" y2="542.7" stroke="#111" stroke-width="2.7"/>
<line x1="118.1" y1="508.6" x2="411" y2="657.4" stroke="#111" stroke-width="2.7"/>
<line x1="411" y1="657.4" x2="793.3" y2="542.7" stroke="#111" stroke-width="2.7"/>
<line x1="411" y1="657.4" x2="401.4" y2="660.3" stroke="#111" stroke-width="2.7"/>
<line x1="354.5" y1="628.7" x2="345" y2="631.6" stroke="#111" stroke-width="2.7"/>
<line x1="298.1" y1="600" x2="288.5" y2="602.9" stroke="#111" stroke-width="2.7"/>
<line x1="241.6" y1="571.3" x2="232" y2="574.2" stroke="#111" stroke-width="2.7"/>
<line x1="185.1" y1="542.7" x2="175.6" y2="545.5" stroke="#111" stroke-width="2.7"/>
<line x1="128.7" y1="514" x2="119.1" y2="516.9" stroke="#111" stroke-width="2.7"/>
<line x1="411" y1="657.4" x2="419.9" y2="661.9" stroke="#111" stroke-width="2.7"/>
<line x1="474.7" y1="638.3" x2="483.6" y2="642.8" stroke="#111" stroke-width="2.7"/>
<line x1="538.4" y1="619.2" x2="547.3" y2="623.7" stroke="#111" stroke-width="2.7"/>
<line x1="602.1" y1="600" x2="611.1" y2="604.6" stroke="#111" stroke-width="2.7"/>
<line x1="665.9" y1="580.9" x2="674.8" y2="585.5" stroke="#111" stroke-width="2.7"/>
<line x1="729.6" y1="561.8" x2="738.5" y2="566.3" stroke="#111" stroke-width="2.7"/>
<line x1="793.3" y1="542.7" x2="802.2" y2="547.2" stroke="#111" stroke-width="2.7"/>
<line x1="118.1" y1="449.7" x2="109.2" y2="445.2" stroke="#111" stroke-width="2.7"/>
<line x1="118.1" y1="391.8" x2="109.2" y2="387.2" stroke="#111" stroke-width="2.7"/>
<line x1="118.1" y1="333.8" x2="109.2" y2="329.3" stroke="#111" stroke-width="2.7"/>
<line x1="118.1" y1="275.9" x2="109.2" y2="271.3" stroke="#111" stroke-width="2.7"/>
<line x1="118.1" y1="217.9" x2="109.2" y2="213.4" stroke="#111" stroke-width="2.7"/>
</g>
<text x="392.5" y="692.8" font-size="29.2" text-anchor="end" fill="#222">0</text>
<text x="336" y="664.1" font-size="29.2" text-anchor="end" fill="#222">0.4</text>
<text x="279.6" y="635.4" font-size="29.2" text-anchor="end" fill="#222">0.8</text>
<text x="223.1" y="606.7" font-size="29.2" text-anchor="end" fill="#222">1.2</text>
<text x="166.6" y="578.1" font-size="29.2" text-anchor="end" fill="#222">1.6</text>
<text x="110.2" y="549.4" font-size="29.2" text-anchor="end" fill="#222">2</text>
<text x="429.2" y="696.6" font-size="29.2" text-anchor="start" fill="#222">0</text>
<text x="492.9" y="677.5" font-size="29.2" text-anchor="start" fill="#222">0.2</text>
<text x="556.6" y="658.4" font-size="29.2" text-anchor="start" fill="#222">0.4</text>
<text x="620.4" y="639.2" font-size="29.2" text-anchor="start" fill="#222">0.6</text>
<text x="684.1" y="620.1" font-size="29.2" text-anchor="start" fill="#222">0.8</text>
<text x="747.8" y="601" font-size="29.2" text-anchor="start" fill="#222">1</text>
<text x="811.5" y="581.9" font-size="29.2" text-anchor="start" fill="#222">1.2</text>
<text x="99.5" y="453.6" font-size="29.2" text-anchor="end" fill="#222">0.2</text>
<text x="99.5" y="395.6" font-size="29.2" text-anchor="end" fill="#222">0.4</text>
<text x="99.5" y="337.7" font-size="29.2" text-anchor="end" fill="#222">0.6</text>
<text x="99.5" y="279.7" font-size="29.2" text-anchor="end" fill="#222">0.8</text>
<text x="99.5" y="221.8" font-size="29.2" text-anchor="end" fill="#222">1</text>
<text transform="translate(43,346) rotate(-90)" font-size="32.1" text-anchor="middle" fill="#222">Normalized truss energy,<tspan font-style="italic">U/kR</tspan><tspan font-size="21" dy="-12">2</tspan></text>
<text transform="translate(217.5,647.5) rotate(27)" font-size="32.7" text-anchor="middle" fill="#222" dy="11">Torsion angle,<tspan font-style="italic">φ</tspan>(rad)</text>
<text transform="translate(648.9,668.6) rotate(-17.3)" font-size="32.2" text-anchor="middle" fill="#222" dy="11">Normalized Height,<tspan font-style="italic">h/R</tspan></text>
<line x1="146.8" y1="198.7" x2="219" y2="198.7" stroke="#dc1628" stroke-width="4"/>
<text x="226" y="191.5" font-size="28.6" text-anchor="start" fill="#222">minmum energy</text>
<text x="226" y="231" font-size="28.6" text-anchor="start" fill="#222">deployment path</text>
<rect x="861.3" y="68.9" width="39.2" height="588.5" fill="url(#cb)" stroke="#333" stroke-width="1"/>
<line x1="894.5" y1="605.5" x2="900.5" y2="605.5" stroke="#333" stroke-width="1"/>
<text x="910.6" y="615.7" font-size="25" text-anchor="start" fill="#222">0.1</text>
<line x1="894.5" y1="553.1" x2="900.5" y2="553.1" stroke="#333" stroke-width="1"/>
<text x="910.6" y="563.3" font-size="25" text-anchor="start" fill="#222">0.2</text>
<line x1="894.5" y1="500.7" x2="900.5" y2="500.7" stroke="#333" stroke-width="1"/>
<text x="910.6" y="510.8" font-size="25" text-anchor="start" fill="#222">0.3</text>
<line x1="894.5" y1="448.3" x2="900.5" y2="448.3" stroke="#333" stroke-width="1"/>
<text x="910.6" y="458.4" font-size="25" text-anchor="start" fill="#222">0.4</text>
<line x1="894.5" y1="395.9" x2="900.5" y2="395.9" stroke="#333" stroke-width="1"/>
<text x="910.6" y="406" font-size="25" text-anchor="start" fill="#222">0.5</text>
<line x1="894.5" y1="343.5" x2="900.5" y2="343.5" stroke="#333" stroke-width="1"/>
<text x="910.6" y="353.6" font-size="25" text-anchor="start" fill="#222">0.6</text>
<line x1="894.5" y1="291.1" x2="900.5" y2="291.1" stroke="#333" stroke-width="1"/>
<text x="910.6" y="301.2" font-size="25" text-anchor="start" fill="#222">0.7</text>
<line x1="894.5" y1="238.7" x2="900.5" y2="238.7" stroke="#333" stroke-width="1"/>
<text x="910.6" y="248.8" font-size="25" text-anchor="start" fill="#222">0.8</text>
<line x1="894.5" y1="186.3" x2="900.5" y2="186.3" stroke="#333" stroke-width="1"/>
<text x="910.6" y="196.4" font-size="25" text-anchor="start" fill="#222">0.9</text>
<line x1="894.5" y1="133.9" x2="900.5" y2="133.9" stroke="#333" stroke-width="1"/>
<text x="910.6" y="144" font-size="25" text-anchor="start" fill="#222">1</text>
<line x1="894.5" y1="81.5" x2="900.5" y2="81.5" stroke="#333" stroke-width="1"/>
<text x="910.6" y="91.7" font-size="25" text-anchor="start" fill="#222">1.1</text>
<text x="25.7" y="39.7" font-size="45" fill="#222">(<tspan font-style="italic" dx="1.5">a</tspan><tspan dx="1.5">)</tspan></text>
</g>
<g id="pb" font-family="'Liberation Sans',Arial,sans-serif">
<g><rect x="123.4" y="797.5" width="747.3" height="627.9" fill="#3e27ab"/>
<path d="M123.5 1425.5l747 0 0-88-14.5-9-18.5-11.5-67.5-46-32-21-31.5-19.5-34-19.5-39-21-39.5-18.5-39-16.5-43-16.5-46.5-15.5-49-13.5-48.5-11.5-48.5-9.5-50.5-7.5-46.5-5-50.5-3-48.5-1zM870.5 1240l0 0.5 0-443-747 0 0 188 48.5 1 48.5 3 48.5 5 48.5 7 49.5 9.5 47.5 11 51.5 14 49 16 51.5 18.5 49.5 20.5 51.5 23.5 46.5 23.5 45 25.5 40.5 25 19 12.5 20 14 16.5 12.5z" fill="#3f29b0"/>
<path d="M123.5 1425.5l747 0 0-60.5-26-18-63-45.5-32-22.5-34-22.5-33.5-20.5-39-22-41.5-20.5-41-18.5-43-17-46.5-16-48.5-14-50.5-12.5-48.5-9.5-50.5-8-48.5-5-50.5-3.5-50.5-1zM869.5 1215l1 1 0-418.5-747 0 0 168 48.5 1 46.5 3 49 5 46.5 6.5 50 9.5 48 11 46 12.5 50 16 48.5 17 51 20.5 46 20.5 48 23.5 47 25 42.5 25 41.5 27z" fill="#402bb6"/>
<path d="M123.5 1425.5l747 0 0-40-24-17.5-60-45-31.5-23.5-35.5-24.5-34-21.5-41-23.5-39-20.5-41-19-43-17.5-47-16.5-48.5-15-48.5-12-28-6-24.5-4.5-50.5-8-48.5-5.5-26-2-26-1.5-50.5-1zM870 1198l0.5 0.5 0-401-747 0 0 152 46.5 1 48.5 3 49 5 46.5 7 46.5 8.5 47 11 48.5 13 47 14.5 49 17.5 48 19 49.5 21.5 49 23.5 47.5 25.5 43.5 25 42 26.5z" fill="#412cbb"/>
<path d="M123.5 1425.5l747 0 0-22-24-18.5-61-47.5-31-23.5-35-25-34-22-39-23.5-39-21-41.5-19.5-43-18-22-8.5-26.5-9-46.5-14.5-48.5-12.5-50.5-10.5-50.5-8.5-26-3-26.5-3-50.5-3.5-26-0.5-26-0.5zM868.5 1182l2 1.5 0-386-747 0 0 138 46.5 1 47 3 46.5 5 48.5 7 47 8.5 46.5 11 48.5 13 46.5 14.5 49 17 48 19 47 20.5 49.5 23.5 48 25 44 25 43 27z" fill="#422ec0"/>
<path d="M123.5 1425.5l747 0 0-6-24-19-60.5-49-32.5-25-34-25-34-23-39-24-39-21.5-39.5-19-43-18.5-24-9-22.5-8-24.5-8-26-8-48.5-13-26.5-5.5-24-5-50.5-8.5-26-3-26.5-3-50.5-3.5-26-1-26 0zM869 1169.5l1.5 1 0-373-747 0 0 125.5 46.5 1 47 3 46.5 5 46.5 6.5 47 9 46.5 10.5 47 12.5 48.5 15.5 49 17 48 19 47 20.5 49.5 23.5 45.5 23.5 47.5 26.5 43.5 27z" fill="#4330c5"/>
<path d="M123.5 1425.5l736 0-80-66-28.5-23-35.5-26.5-33.5-23-39-24.5-39.5-21.5-41-20-41-18-24.5-9.5-22.5-8-22.5-7.5-26-8-48.5-12.5-48.5-10.5-50.5-8.5-26-3-26.5-3-50.5-3.5-26-1-26 0zM870 1158.5l0.5 0.5 0-361.5-747 0 0 113.5 46.5 1 47 3 45 5 46.5 6.5 46.5 9 47 11 46.5 12.5 46.5 14.5 49 17 48 19 47.5 20.5 49.5 23.5 49 25 45 25 44 27z" fill="#4332ca"/>
<path d="M123.5 1425.5l720 0-65-55-32.5-26.5-35.5-27-34-24-37.5-23-39-22-39.5-19.5-43-18.5-24-9.5-22.5-8-45-14.5-22.5-6.5-26-6.5-24.5-5.5-26-5.5-24-4-26.5-4.5-50.5-5.5-26-2.5-26-1.5-50.5-1zM869 1147.5l1.5 1 0-351-747 0 0 102.5 46.5 1 45 3 46.5 5 45 6.5 46.5 9 47 10.5 46.5 12.5 47 15 48.5 17 48.5 19 47 20.5 50 23.5 48.5 25 45.5 25 44.5 27z" fill="#4434ce"/>
<path d="M123.5 1425.5l705 0-54-47-36-30-35-26.5-34.5-24.5-37.5-23.5-39-22-39.5-19-20.5-9.5-22.5-9-24-9.5-22.5-8-45-14-24-7-24.5-6-48.5-10-48.5-8-48.5-5.5-50.5-3.5-50.5-1.5zM870 1138l0.5 0.5 0-341-747 0 0 92 44.5 1 47 2.5 45 5 46.5 7 45.5 8.5 46 11 46.5 12.5 47 14.5 48 17 47.5 19 48.5 20.5 49 23.5 49 25 47.5 26.5 45 27z" fill="#4536d3"/>
<path d="M123.5 1425.5l691.5 0-49.5-44-35.5-30-35-26.5-35.5-25-37.5-23-37-21-39.5-19-41-18-24.5-9-22-8-45-14-45-12-48.5-10-48.5-8-48.5-5.5-50.5-3.5-48.5-1zM869.5 1128.5l1 1 0-332-747 0 0 81.5 44.5 1 45 3 45 4.5 46.5 7 45 8.5 46.5 11 47 13 46.5 14.5 48.5 17.5 48.5 19 49 21 48.5 23 49 25 48 27 45 26.5z" fill="#4538d7"/>
<path d="M123.5 1425.5l679.5 0-45.5-41-35.5-29.5-34.5-26.5-34-24-37-23.5-37-20.5-39.5-19.5-41-17.5-43-16-45-14-46.5-12-47-10-48.5-8-48.5-5.5-48.5-3-48.5-1.5zM869 1119.5l1.5 1 0-323-747 0 0 71.5 44.5 1 45 3 45 4.5 45 7 45.5 9 46 10.5 46.5 13 45 14 48.5 17 47.5 19 49.5 21.5 48.5 23 48.5 24.5 49 27 46.5 27.5z" fill="#463adb"/>
<path d="M123.5 1425.5l667.5 0-41.5-38-35-29.5-34.5-27-33.5-23.5-35.5-22-37.5-21-39-19-39.5-17-43-16-44.5-14-47-12-44.5-9.5-48.5-8-47-5.5-48.5-3-48.5-1.5zM869.5 1111.5l1 0.5 0-314.5-747 0 0 61.5 44.5 1 45 3 45 5 45 7 46 9 45.5 10.5 45.5 13 46 14.5 48.5 17.5 48.5 19.5 48.5 21 48.5 23 49.5 25.5 48 26.5 48 28z" fill="#463cdf"/>
<path d="M123.5 1425.5l657 0-39.5-36-35-30-33.5-26-33.5-23.5-35.5-22-37.5-21-37-18-41.5-17.5-41-15-43-13.5-22.5-6-24-6-45-9.5-46.5-7.5-47-5.5-46.5-3-48.5-1zM870 1103.5l0.5 0.5 0-306.5-747 0 0 52 43 0.5 44.5 3 45 5 45 7 44.5 9 45 10.5 47 13 46.5 15 48.5 17.5 48.5 19.5 48.5 21.5 49 23 48.5 25 48.5 26.5 47.5 28.5z" fill="#473fe2"/>
<path d="M123.5 1425.5l646.5 0-39.5-36-33-28.5-32.5-25-33.5-23.5-35-22-36-20-37.5-18-39-16.5-43-16-43-13-43-11.5-45-9-46.5-7.5-46.5-5.5-47-3-46.5-1zM870 1096l0.5 0.5 0-299-747 0 0 42 43 1 44.5 3 43 5 45 7 45 8.5 44.5 11 47 13 46.5 15.5 48.5 17.5 49 19.5 49 22 49.5 23.5 49 25 48.5 27 47.5 28z" fill="#4741e5"/>
<path d="M123.5 1425.5l636.5 0-37.5-34.5-33-28.5-32.5-25-33-23-33.5-21-35.5-19.5-37.5-18.5-39-16.5-41-15-43-13-43-11-45-9.5-46.5-7.5-45-5-45-3-46.5-1zM869.5 1088l1 1 0-291.5-747 0 0 32.5 24 0.5 24.5 1 24.5 1.5 26 2.5 26 3 24.5 3 26 4.5 24.5 5 50 11 26.5 7 26 7.5 52.5 17 54 20 43 17.5 41 18 43 20 43 21.5 43 23 42.5 24 41.5 25z" fill="#4744e8"/>
<path d="M123.5 1425.5l627 0-35.5-33-31-27-32.5-25-33-23-33.5-21-35.5-19.5-35.5-17.5-39.5-16.5-41-15-41-12.5-43-11-45-9.5-44.5-7-45-5-45-3.5-46.5-1zM868.5 1080l2 1.5 0-284-747 0 0 23 46.5 1.5 24.5 1.5 24 2 47 6 48.5 8.5 48.5 10.5 50.5 13.5 50.5 16 50.5 18 43 17 44.5 19.5 47 21.5 44 22 45.5 24 45 25.5 43.5 26z" fill="#4747eb"/>
<path d="M123.5 1425.5l618 0-34-31.5-33-28.5-31.5-24.5-32-22-33.5-21-35.5-19.5-35.5-17-37.5-15.5-41-15-41-12.5-43-11-43-8.5-43-7-45-5-45-3-44.5-1zM869.5 1074l1 0.5 0-277-747 0 0 13.5 44.5 1.5 47 3.5 45 5.5 46.5 7.5 46.5 10.5 47 12 48.5 15 48.5 17 45 17.5 46.5 20 47 21 48.5 24 48.5 26 46.5 26 46 27.5z" fill="#4849ed"/>
<path d="M123.5 1425.5l609 0-33.5-31.5-31.5-26.5-30-23.5-31.5-22-33-20.5-35-19.5-35.5-17-37-15.5-39.5-14.5-41-12.5-41-10.5-43-9-43-6.5-45-5-45-3-44.5-1zM868.5 1066l2 1.5 0-270-747 0 0 4 44.5 1.5 47 3.5 46.5 6 47 8 41 9 43 11.5 43 13 43 14.5 46.5 17.5 48.5 20.5 50.5 23 48.5 23.5 50.5 26.5 50.5 28.5 48.5 28.5z" fill="#484cef"/>
<path d="M123.5 1425.5l600.5 0-32-30-31-26.5-30.5-23.5-31.5-22-33-20.5-33.5-18.5-35.5-17-37.5-15.5-39-14-41-12.5-39.5-10-43-8.5-43-7-43-5-43-2.5-44.5-1zM869 1059.5l1.5 1 0-263-650.5 0 36 4.5 37.5 6.5 37.5 7.5 37 9.5 37.5 10.5 39 12.5 39.5 14 41 16 41 17 43 19.5 43 20.5 45 23 45 24.5 43 24.5 42.5 26z" fill="#484ef1"/>
<path d="M123.5 1425.5l592 0-32-30-29-25-30.5-23.5-31.5-22-32-19.5-33.5-18.5-33.5-16-37.5-15.5-39.5-14.5-39-11.5-41-10.5-41-8.5-43-6.5-43-5-43-3-43-0.5zM869.5 1053.5l1 0.5 0-256.5-586 0 33 6.5 34 8 33.5 9.5 33.5 10 33.5 11 35.5 13 35.5 14 37.5 16 37.5 16.5 39 19 39.5 19.5 39 21 39.5 22 39 22.5 38.5 24z" fill="#4851f3"/>
<path d="M123.5 1425.5l584 0-32-30-29-25-30-23-30-20.5-31.5-19.5-33.5-18.5-34-16-35.5-14.5-37-13.5-39.5-12-41-10.5-41-8.5-41-6.5-43-4.5-43-3-43-1zM870 1047l0.5 0.5 0-250-542 0 30.5 7.5 29.5 8.5 32 10 31.5 11 32 11.5 33.5 13.5 33.5 14 35.5 16 35.5 17 35.5 17.5 35.5 18.5 35.5 19.5 35.5 20 35.5 21 35.5 22z" fill="#4853f5"/>
<path d="M123.5 1425.5l576 0-30-28.5-29.5-25-29-22.5-30-20.5-31.5-19.5-32-17.5-33.5-16-35.5-14.5-37.5-13.5-39-12-41-10.5-39.5-8-41-6-43-5-43-3-41-0.5zM870 1041l0.5 0 0-243.5-506.5 0 28.5 8.5 28 9 30 10.5 29.5 11 30 12 32 13.5 31.5 14 32 15 31.5 15.5 34 17.5 33.5 17.5 33.5 19 33.5 19.5 34 20 33.5 21z" fill="#4756f6"/>
<path d="M123.5 1425.5l568.5 0-28.5-27-29-25-28.5-22-29.5-20.5-31-18.5-31.5-17.5-34-16-35.5-15-37-13-37.5-11.5-39-10-41.5-8.5-41-6.5-41-4.5-41-2.5-43-1zM870 1034.5l0.5 0.5 0-237.5-476.5 0 26.5 8.5 28 10 28 11 28 11 58 25.5 59.5 28.5 62 32 63.5 35 63.5 38z" fill="#4758f8"/>
<path d="M123.5 1425.5l561 0-28.5-27-28-24-28-21.5-30-20.5-32-19.5-31.5-17-33.5-16-34-14-37-13-37.5-11-39.5-10-39-8-41-6-39.5-4.5-41-2.5-41-1zM870 1028.5l0.5 0.5 0-231.5-450 0 52.5 19.5 52 22 56 25.5 56 28 58 30.5 60 34 58 35z" fill="#475bf9"/>
<path d="M123.5 1425.5l553.5 0-28.5-27-27.5-23.5-28.5-22-28-19-30.5-18.5-31.5-17-33.5-16-33.5-13.5-37.5-13.5-37.5-11-37-9-39.5-8-41-6.5-39.5-4-39-2.5-41-1zM869.5 1022l1 0.5 0-225-426 0 49 19.5 50.5 22.5 52 25 54 27.5 56.5 30.5 56 32.5 54 33z" fill="#465dfa"/>
<path d="M123.5 1425.5l546.5 0-27-25-27.5-24-28.5-21.5-28.5-19.5-30-18.5-31.5-17-31.5-15-34-13.5-35.5-12.5-37-11.5-37.5-9-39.5-8-39-6-39.5-4-41-3-39-0.5zM869 1015.5l1.5 1 0-219-404 0 45.5 19.5 48.5 22.5 50.5 25 50.5 26.5 52.5 29 52 30.5 52.5 32.5z" fill="#4660fb"/>
<path d="M123.5 1425.5l539.5 0-27-25-27.5-24-27.5-20.5-28-19-30-18.5-29.5-16-32-15-33.5-13.5-35.5-12.5-37.5-11-37.5-9.5-37-7.5-39.5-6-39-4-39.5-2.5-39-1zM868.5 1009.5l2 1 0-213-384 0 44 20 45 21.5 48.5 25 48.5 26.5 48.5 27.5 50.5 30 49 30z" fill="#4562fc"/>
<path d="M123.5 1425.5l532.5 0-27-25-26-22-27.5-21.5-28-19-29.5-18-30.5-16-31.5-14.5-32-13-35.5-12.5-35.5-10.5-37-9.5-37.5-7.5-37.5-5.5-39-4.5-39.5-2.5-39-0.5zM870.5 1004.5l0-207-365 0 42 20 45 22.5 44.5 24 47 26 48.5 28 46.5 28 47 29.5z" fill="#4465fd"/>
<path d="M123.5 1425.5l525.5 0-27-25-26-22-26.5-20.5-27.5-18.5-28-17-30-16-32-15-31.5-13-33.5-11.5-35.5-10.5-37.5-9.5-37.5-7.5-39-6-37.5-4-39-2.5-37.5-0.5zM870 998.5l0.5 0.5 0-201.5-347.5 0 41.5 20.5 43 22.5 42.5 23.5 45 25.5 45 26.5 45 27.5 42.5 27.5z" fill="#4368fd"/>
<path d="M123.5 1425.5l519 0-25.5-23.5-25.5-22-27-20.5-26.5-18-28-17-30-16-31.5-14.5-32-13-33.5-12-35.5-10.5-35.5-8.5-37.5-7.5-37-5.5-37.5-4-39-2.5-37.5-1zM869 992l1.5 1 0-195.5-331 0 38 19.5 41 22 41 23.5 43 25 43 25.5 41 25.5 41 26.5z" fill="#426afe"/>
<path d="M123.5 1425.5l512.5 0-25.5-23.5-26-22-26-19.5-26.5-18.5-27.5-16-30-16-30-14-31.5-13-33.5-11.5-34-10-37-9-35.5-7-37.5-6-37.5-4-37-2-37.5-1zM870.5 987.5l0-190-315 0 38.5 21 39.5 22 39 22.5 41.5 24.5 80 49.5 39.5 25.5z" fill="#406dfe"/>
<path d="M123.5 1425.5l506 0-25.5-23.5-24-20.5-27-20.5-26-17-28-17-28-15-30-14-32-12.5-33.5-12-33.5-10-35.5-8.5-35.5-7-35.5-5.5-37.5-4-37-2-37.5-1zM869.5 981l1 1 0-184.5-300 0 74 42 76.5 46 77 48z" fill="#3e70ff"/>
<path d="M123.5 1425.5l499.5 0-25-23.5-24.5-20-25-19.5-26-17-27.5-16.5-28-15-29.5-14-32-12.5-33.5-12-34-9.5-33.5-8.5-35.5-6.5-35.5-5.5-37-4-35.5-2.5-37.5-0.5zM869 975l1.5 1 0-178.5-285.5 0 71 41.5 72.5 44.5 73 46.5z" fill="#3b72fe"/>
<path d="M123.5 1425.5l493 0-23.5-22-24-20.5-25-19-26.5-17.5-28-16.5-28-15-30-13.5-29.5-12-32-11-33.5-10-33.5-8-35.5-7-35.5-5.5-35.5-3.5-35.5-2.5-37.5-1zM870 970l0.5 0.5 0-173-272 0 68.5 41 71 44.5 67.5 43.5z" fill="#3875fe"/>
<path d="M123.5 1425.5l487 0-24-22-24-20.5-25.5-19-25-16.5-26-16-28-14.5-30-13.5-30-12-31.5-11-34-10-33.5-8-33.5-6.5-35.5-5.5-35.5-3.5-35.5-2.5-35.5-0.5zM869 964l1.5 1 0-167.5-258.5 0 66.5 41 67 43 63.5 41.5z" fill="#3678fd"/>
<path d="M123.5 1425.5l481 0-24-22-23.5-20-24.5-18-25.5-17-27-16-28-14.5-28-13-29.5-11.5-32-11-31.5-9.5-34-8-33.5-6.5-33.5-5-35.5-4-35.5-2-35.5-0.5zM870.5 959l0 0.5 0-162-246 0 65 41 65.5 42.5 59.5 40z" fill="#337bfd"/>
<path d="M123.5 1425.5l475 0-24-22-22.5-19-25-18.5-24-16-26.5-15.5-26-14-28-12.5-30-12-32-11-31.5-9.5-32-7.5-33.5-6.5-33.5-5-35.5-4-35.5-2.5-35.5-0.5zM869.5 953l1 1 0-156.5-234 0 126 82.5 56 37.5z" fill="#317dfb"/>
<path d="M123.5 1425.5l469 0-22.5-20.5-22.5-19-24.5-18-24-16.5-26-15.5-26.5-13.5-28-13-30-12-29.5-10-32-9.5-31.5-7.5-34-6.5-33.5-5-35.5-4-33.5-2-35.5-1zM870.5 948l0-150.5-222 0 125 83.5z" fill="#3080fa"/>
<path d="M123.5 1425.5l463 0-22-20.5-23-19-23-17-25-17-25-14.5-27.5-14-27.5-12.5-28.5-11.5-30-10.5-31.5-9-32-7.5-33.5-6.5-33.5-5-34-3.5-33.5-2-33.5-1zM869.5 942l1 0.5 0-145-210.5 0 123 84z" fill="#2f83f9"/>
<path d="M123.5 1425.5l457 0-22-20.5-23-19-23.5-17-23.5-16-25-14.5-26.5-13.5-27.5-12.5-28.5-11.5-29.5-10-30-8.5-32-7.5-31.5-6.5-33.5-5-34-3.5-33.5-2-33.5-0.5zM870.5 937l0-139.5-199.5 0 123 85.5z" fill="#2e85f8"/>
<path d="M123.5 1425.5l451.5 0-22-20-21.5-18-23-17-24-15.5-25-15-26-13.5-26-12-28-11-30-10-30-9-31.5-7.5-32-6-31.5-5-34-3.5-33.5-2-33.5-0.5zM869.5 931l1 0.5 0-134-188.5 0z" fill="#2d87f6"/>
<path d="M123.5 1425.5l445.5 0-21.5-20-22-18-23-17-22.5-14.5-24-14.5-26-13.5-26.5-11.5-28-11.5-30-10-29.5-8.5-32-7.5-30-5.5-31.5-5-33.5-3.5-32-2-33.5-0.5zM868.5 924.5l2 1.5 0-128.5-178.5 0z" fill="#2d8af5"/>
<path d="M123.5 1425.5l440 0-21.5-20-22-18-23-16.5-22.5-14.5-24-14.5-24.5-12.5-26-11.5-28-11-28-9.5-30-8.5-30-7.5-31.5-6-32-4.5-31.5-3.5-32-2-33.5-0.5zM869.5 920l1 0.5 0-123-168 0z" fill="#2d8cf3"/>
<path d="M123.5 1425.5l434.5 0-21-19-21-17-22.5-17-22.5-14.5-24.5-14-24-13-26.5-11.5-28-11-28-9.5-30-8.5-29.5-7-30-5.5-32-5-31.5-3-32-2-31.5-1zM868.5 913.5l2 1.5 0-117.5-158 0z" fill="#2c8ff1"/>
<path d="M123.5 1425.5l429 0-21-19-21-17-21.5-16-23.5-15.5-24.5-14-24.5-12-26-12-26-10-28-9.5-28-8-30-7-30-5.5-30-4.5-31.5-3.5-32-1.5-31.5-1zM870 909l0.5 0.5 0-112-148.5 0 55.5 42.5z" fill="#2b91ef"/>
<path d="M123.5 1425.5l423.5 0-21-19-21-17-22-16-21.5-14-24-14-24.5-12-24.5-11-26-10.5-28-9-28-8-30-7-30-6-31.5-4.5-30-3-30-2-31.5-0.5zM869 902.5l1.5 1.5 0-106.5-139 0 54.5 42.5z" fill="#2a93ed"/>
<path d="M123.5 1425.5l418 0-20-18.5-20.5-16-21.5-16-21.5-14-22.5-13-24.5-12.5-26-11.5-26-10.5-28-9-28-8-28.5-6.5-29.5-5.5-30-4.5-30-3-30-2-31.5-0.5zM870 898l0.5 0.5 0-101-130 0 54 42.5z" fill="#2895ec"/>
<path d="M123.5 1425.5l412.5 0-20.5-18.5-20-16-21.5-16-22-14-22-12.5-24.5-12.5-24.5-10.5-25-10-27-9-28-8-28-6.5-30-5.5-30-4.5-30-3-29.5-2-30-0.5zM869 891.5l1.5 1.5 0-95.5-121 0 51 41z" fill="#2798ea"/>
<path d="M123.5 1425.5l407.5 0-21-18.5-20-16-19.5-14.5-22-14-21.5-12.5-23.5-11.5-24-11-26.5-10-26-9-28-8-28-6.5-28-5.5-30-4-30-3-29.5-2-30-0.5zM870.5 887l0 0 0-89.5-112 0 48 39z" fill="#269ae9"/>
<path d="M123.5 1425.5l402 0-19.5-17.5-19.5-15.5-21-15.5-21-13.5-22-12.5-23.5-12-25-11-24.5-9.5-26-8.5-26.5-7.5-28-6.5-28-5-28-4.5-30-3-29.5-2-30-0.5zM869.5 880.5l1 1 0-84-103.5 0 45.5 37.5z" fill="#259ce7"/>
<path d="M123.5 1425.5l397 0-19.5-17.5-19.5-15.5-20-14.5-22-14-22-12.5-22-11-23.5-10.5-24.5-9.5-26-8.5-26-7.5-28-6.5-28.5-5-29.5-4.5-28-3-30-1.5-28-0.5zM869 874.5l1.5 1.5 0-78.5-95 0 41 34.5z" fill="#249ee6"/>
<path d="M123.5 1425.5l391.5 0-19.5-17.5-19-15-20.5-14.5-19.5-13-21.5-12-22.5-11.5-24.5-10.5-24-9.5-26.5-8.5-26-7.5-26-6-28-5-28-4-28-3-28-2-30-0.5zM870 869.5l0.5 0.5 0-72.5-87 0 39 33z" fill="#23a0e5"/>
<path d="M123.5 1425.5l386.5 0-18-16-19.5-15.5-19.5-14-21.5-13.5-20.5-12-22.5-11-22-10-24.5-9.5-24.5-8-26-7.5-26-6-28-5.5-28-4-28-3-28-1.5-30-1zM869.5 863.5l1 1 0-67-79 0 36.5 31.5z" fill="#22a2e4"/>
<path d="M123.5 1425.5l381.5 0-18-16-19.5-15.5-20-14-19.5-12.5-20.5-11.5-22.5-11.5-23-10-24-9-24-8-26-7.5-26.5-6-26-5-28-4-28-3-28-1.5-28-0.5zM869 857l1.5 1.5 0-61-71 0 32.5 28.5z" fill="#20a4e3"/>
<path d="M123.5 1425.5l376 0-17.5-16-18.5-14.5-19-13.5-20.5-13-21.5-12-21.5-11-22-9.5-24.5-9.5-24.5-8-26-7-26-6-26-5-26.5-3.5-28-3-26-1.5-28-0.5zM870.5 852.5l0 0.5 0-55.5-63 0 30 26.5z" fill="#1fa6e1"/>
<path d="M123.5 1425.5l371 0-17.5-16-19-15-19-13-20-12.5-19.5-11-22-11-22.5-10-22.5-8.5-24-8-24.5-6.5-26-6.5-26-4.5-26.5-4-28-3-26-1.5-28-0.5zM870 846l0.5 1 0-49.5-55.5 0z" fill="#1da8e0"/>
<path d="M123.5 1425.5l366 0-18-16-17.5-14-20.5-14-18.5-12-20.5-11.5-21-10-22-10-22.5-8-24.5-8-24-7-24.5-5.5-26-5-26.5-3.5-26-2.5-26-2-28-0.5zM869.5 840l1 1 0-43.5-48 0z" fill="#1baade"/>
<path d="M123.5 1425.5l361 0-18-16-18-14-17.5-12.5-20-12.5-20-11-21-10.5-20.5-9-22.5-8.5-24-8-24.5-6.5-24.5-5.5-26-5-26-3.5-26.5-2.5-26-2-26-0.5zM869.5 833.5l1 1.5 0-37.5-40.5 0z" fill="#1aacdd"/>
<path d="M123.5 1425.5l356 0-18-16-17-13-18.5-13-18.5-12-20.5-11.5-20.5-10-21-8.5-22-8.5-22.5-7.5-24.5-6.5-24-6-26.5-4.5-24-3.5-26.5-2.5-26-2-26-0.5zM869 827.5l1.5 1 0-31-33.5 0z" fill="#17aeda"/>
<path d="M123.5 1425.5l351.5 0-16.5-14-18-14.5-18-12.5-19-12-18.5-10.5-20.5-10-20.5-9-22.5-8.5-22.5-7-24.5-7-24-5.5-24.5-4.5-24-3.5-26.5-2.5-26-1.5-26-1zM869 821l1.5 1.5 0-25-26.5 0z" fill="#14b0d8"/>
<path d="M123.5 1425.5l346.5 0-16.5-14-18-14.5-18-12.5-17.5-11-20-11-19.5-9.5-20.5-9-22.5-8-22-7.5-22.5-6-24.5-5.5-24-4.5-24.5-3.5-26-3-24.5-1-26-1zM869 815l1.5 1 0-18.5-19.5 0z" fill="#11b1d6"/>
<path d="M123.5 1425.5l341.5 0-16.5-14-17-13.5-17-12-18.5-11.5-18.5-10.5-20.5-10-20.5-8.5-21-8-22-7-22.5-6.5-24.5-5.5-24-4.5-24.5-3.5-24-2.5-24.5-1.5-26-0.5zM869.5 808.5l1 1 0-12-12.5 0z" fill="#0db3d3"/>
<path d="M123.5 1425.5l336.5 0-16.5-14-16-13-18-12.5-17.5-11-20-11-19-9-20.5-8.5-20.5-8-22.5-7-22-6-22.5-5-24.5-4.5-24-3.5-24.5-2.5-24.5-1.5-24-0.5zM869.5 802l1 1 0-5.5-5.5 0z" fill="#08b4d1"/>
<path d="M123.5 1425.5l332 0-16.5-14-16.5-13-17-11.5-17-10.5-18.5-10.5-18.5-9-20.5-9-21-7.5-20.5-7-22-6-22.5-5-24.5-4.5-24-3.5-24.5-2.5-24.5-1.5-24-0.5z" fill="#05b6ce"/>
<path d="M123.5 1425.5l327 0-16.5-14-16.5-13-16-11-17.5-11-17.5-9.5-19-9-20.5-9-20.5-7.5-20.5-6.5-22.5-6.5-22.5-5-22.5-4-22-3-24.5-2.5-24.5-1.5-24-0.5z" fill="#02b7cb"/>
<path d="M123.5 1425.5l322.5 0-15-12.5-16-12.5-16-11-18-11.5-18.5-10-18.5-9-19-8-20.5-8-20.5-6.5-22.5-6-22.5-5-22-4-22.5-3.5-24.5-2.5-22.5-1-24-0.5z" fill="#01b8c8"/>
<path d="M123.5 1425.5l317.5 0-14.5-12.5-16.5-12.5-16-11-17.5-11-17.5-9.5-19-9.5-19-8-20-7.5-20.5-6.5-20.5-5.5-22.5-5-22.5-4-22.5-3-22.5-2.5-22.5-1-24-0.5z" fill="#01bac5"/>
<path d="M123.5 1425.5l313 0-15-12.5-16.5-12.5-16-11-17-10.5-17-9.5-17.5-8.5-18.5-8-20-7-20.5-6.5-20.5-6-20.5-4.5-22.5-4-22.5-3-22.5-2.5-22.5-1.5-24-0.5z" fill="#03bbc2"/>
<path d="M123.5 1425.5l308 0-14.5-12.5-16.5-12.5-16.5-11-15.5-9.5-17-9.5-19-9-18.5-8-18.5-6.5-19-6-20.5-5.5-20.5-5-22.5-4-22.5-3-22.5-2.5-22-1-22.5-0.5z" fill="#07bcbf"/>
<path d="M123.5 1425.5l303.5 0-15-12.5-16-12-15-10.5-16.5-10-17-9-16.5-8.5-19-7.5-18.5-7-19-6-20.5-5.5-20.5-4.5-22.5-4.5-20.5-2.5-22.5-2.5-22-1-22.5-0.5z" fill="#0cbdbc"/>
<path d="M123.5 1425.5l299 0-15-12.5-14.5-11-16.5-11-15.5-9.5-17-9.5-16.5-8-17.5-7-18.5-7-18.5-6-20.5-5.5-20.5-4.5-21-4-20.5-3-22.5-2-22-1.5-22.5-0.5z" fill="#12beb9"/>
<path d="M123.5 1425.5l294 0-15-12.5-14.5-11-16-11-15-9-17-9-16.5-8-17-7-18.5-7-19-6-18.5-5-20.5-4.5-20.5-4-20.5-2.5-22.5-2.5-20.5-1-22.5-0.5z" fill="#18bfb6"/>
<path d="M123.5 1425.5l289.5 0-13-11-15-11.5-15.5-10.5-15.5-9.5-16-8.5-16.5-8-17-7-18.5-7-18.5-6-19-5-20.5-4.5-20.5-3.5-20.5-3-20.5-2-20.5-1.5-22.5-0.5z" fill="#1dc0b3"/>
<path d="M123.5 1425.5l285 0-13-11-14.5-11-16.5-11-15-9-15.5-8.5-16.5-7.5-16.5-7-19-7-18.5-6-18.5-5-19-4-20.5-3.5-20.5-3-20.5-2-20.5-1-20.5-0.5z" fill="#22c1b0"/>
<path d="M123.5 1425.5l280.5 0-13.5-11-14.5-11-14-9.5-15.5-9.5-15.5-8.5-17-8-17-7-16.5-6-19-6-18.5-5-18.5-4-21-3.5-18.5-2.5-20.5-2-20.5-1.5-20.5 0z" fill="#26c2ac"/>
<path d="M123.5 1425.5l276 0-13.5-11-14.5-11-14-9.5-15.5-9-15-8.5-17-7.5-15-6.5-17.5-6-17.5-6-19-4.5-18.5-4.5-19-3-18.5-3-20.5-2-20.5-1-20.5-0.5z" fill="#2ac3a9"/>
<path d="M123.5 1425.5l271.5 0-13.5-11-13.5-10-13-9-15.5-9.5-15-7.5-16.5-8-16.5-7-17-6-16.5-5.5-19-4.5-18.5-4.5-18.5-3-19-3-20.5-2-20.5-1-18.5-0.5z" fill="#2dc4a6"/>
<path d="M123.5 1425.5l267 0-13.5-11-12.5-9.5-14-9.5-14-8.5-15-8-15-7-17-7-16.5-6-17-5.5-18.5-5-19-4-18.5-3-18.5-2.5-19-2-20.5-1-18.5-0.5z" fill="#2fc5a2"/>
<path d="M123.5 1425.5l262.5 0-13.5-11-13-9.5-14-9.5-13-8-15-7.5-16.5-8-15.5-6.5-16.5-5.5-16.5-5.5-17.5-4.5-18-4-19-3-18.5-2.5-18.5-2-19-1-18.5-0.5z" fill="#32c69f"/>
<path d="M123.5 1425.5l258 0-13.5-11-13-9.5-14-9.5-13.5-8-13.5-7-15-7-15-6-16.5-6-17-5.5-17-4.5-16.5-3.5-19-3.5-18.5-2.5-18.5-1.5-19-1.5-18.5 0z" fill="#34c79b"/>
<path d="M123.5 1425.5l253.5 0-11.5-9.5-13-9.5-14-9.5-13-7.5-15-8-13.5-6.5-15-6-17-6.5-16.5-5-16.5-4.5-17-3.5-18.5-3.5-17-2-18.5-2-19-1-18.5-0.5z" fill="#37c897"/>
<path d="M123.5 1425.5l249 0-11.5-9.5-13.5-10-13.5-9-13.5-7.5-14-7.5-14.5-7-15.5-6-15-5.5-16.5-5-17-4.5-17-3.5-16.5-3-19-2.5-16.5-1.5-17-1-18.5-0.5z" fill="#3ac993"/>
<path d="M123.5 1425.5l244.5 0-11.5-9.5-13-9.5-12.5-8.5-13.5-7.5-14-7.5-13.5-6.5-15-6-15-5.5-15-4.5-17-4.5-17-3.5-16.5-3-17-2.5-18.5-2-17-1-18.5 0z" fill="#3eca8f"/>
<path d="M123.5 1425.5l240 0-11.5-9.5-13-9.5-12-8-13-7.5-12-6.5-14-6.5-14.5-6-15.5-5.5-15-4.5-17-4.5-16.5-4-17-2.5-17-2.5-16.5-1.5-17-1-18.5-0.5z" fill="#43ca8b"/>
<path d="M123.5 1425.5l235.5 0-11.5-9.5-13-9.5-12-8-12.5-7-13-7-14-6-14-6-14.5-5-15.5-5-16.5-4-15-3.5-17-3-16.5-2-17-1.5-17-1-16.5-0.5z" fill="#47cb87"/>
<path d="M123.5 1425.5l231 0-11.5-9.5-10.5-8-12-7.5-13.5-8-13.5-7-13-6-14.5-6-13.5-5-15-4.5-15-4-15-3-17-3-16.5-2.5-17-1.5-17-1-16.5-0.5z" fill="#4dcc82"/>
<path d="M123.5 1425.5l227 0-12-9.5-10.5-8-12-7.5-11.5-7-13-6.5-13-6-14-6-14-5-15-4.5-15-4-15-3-16.5-3-15-2-17-2-17-1-16.5 0z" fill="#53cc7e"/>
<path d="M123.5 1425.5l222.5 0-12-9.5-10.5-8-11.5-7-11.5-7-12-6.5-14-6-13-5.5-15-5-14.5-4.5-14.5-4-15.5-3-15-3-17-2-15-1.5-31.5-1z" fill="#58cc79"/>
<path d="M123.5 1425.5l218 0-10.5-9-11.5-8-10.5-6.5-12-7-11-6-13-6-13-5.5-15-5.5-13-4-15-3.5-15-3.5-15-2.5-15-2-17-2-15-0.5-16.5-0.5z" fill="#5ecd74"/>
<path d="M123.5 1425.5l214 0-10-8-11-8-12-7.5-10.5-6.5-12.5-6-12.5-6-12.5-5-13.5-5-13-4-15-4-15-3-15-2.5-30-3.5-15-1-16.5-0.5z" fill="#64cd6f"/>
<path d="M123.5 1425.5l209.5 0-10-8-11-8-12-7.5-11-6.5-12-6-11.5-5.5-13-5-13.5-4.5-13-4-15-4-28-5.5-29.5-3-30-1.5z" fill="#6acd6a"/>
<path d="M123.5 1425.5l205 0-10-8-10.5-8-11-6.5-11-6.5-11.5-6-13-6-24-9-13-4-15-3.5-28-5.5-28-3-30-1.5z" fill="#70cd65"/>
<path d="M123.5 1425.5l201 0-10-8-11-8-21-12.5-22.5-11-24.5-9-26-7.5-28-5.5-28-3-30-1z" fill="#77cc60"/>
<path d="M123.5 1425.5l196.5 0-18.5-14-10-6.5-11-6.5-22.5-11-24.5-9-26-7.5-28-5.5-28-3-28-1z" fill="#7dcc5b"/>
<path d="M123.5 1425.5l192 0-18.5-14-20.5-13-11-5.5-12-5.5-23.5-8.5-26.5-7-26-5-26-3-28-1z" fill="#84cc56"/>
<path d="M123.5 1425.5l188 0-19-14-19.5-12-21-10-24-9-24.5-7-26-5-26-3-28-1z" fill="#8bcb51"/>
<path d="M123.5 1425.5l183.5 0-10-8-9-6-18-11-21.5-10.5-22.5-8.5-24-6.5-26.5-5.5-26-2.5-26-1z" fill="#91ca4c"/>
<path d="M123.5 1425.5l179.5 0-10-8-9-6-18.5-11-20.5-10-22.5-8.5-24.5-6.5-24-4.5-24.5-2.5-26-1z" fill="#97ca47"/>
<path d="M123.5 1425.5l175 0-16.5-12.5-10-6.5-10.5-5.5-20.5-10-20.5-7.5-22.5-6-24-5-24.5-2.5-26-1z" fill="#9ec942"/>
<path d="M123.5 1425.5l171 0-17-12.5-18.5-11-19.5-9.5-21-7.5-22-6.5-24.5-4.5-24.5-3-24-0.5z" fill="#a4c83e"/>
<path d="M123.5 1425.5l166.5 0-17-12.5-17-10.5-18.5-9-20.5-7.5-22.5-6-22.5-4.5-24.5-3-24-0.5z" fill="#aac73a"/>
<path d="M123.5 1425.5l162.5 0-17-12.5-16.5-10-19.5-9-20-7.5-20.5-5.5-22.5-4.5-22.5-2.5-24-0.5z" fill="#b0c636"/>
<path d="M123.5 1425.5l158 0-16-12-17-10-18.5-9-19-6.5-20.5-5.5-22.5-4.5-22-2.5-22.5-1z" fill="#b6c532"/>
<path d="M123.5 1425.5l154 0-15-11-16-9.5-18.5-9-18.5-7-20.5-5.5-21-4-22-2.5-22.5-1z" fill="#bcc42f"/>
<path d="M123.5 1425.5l149.5 0-15-11-15.5-9.5-16.5-8-18.5-6.5-20.5-6-20.5-3.5-20.5-2.5-22.5-1z" fill="#c2c32c"/>
<path d="M123.5 1425.5l145.5 0-15-11-16-9.5-17-8-17.5-6-18.5-5-20.5-4-20.5-2-20.5-1z" fill="#c7c12a"/>
<path d="M123.5 1425.5l141.5 0-13-9.5-15.5-9.5-16.5-8-18-6.5-19-5-18.5-3.5-20.5-2.5-20.5-0.5z" fill="#ccc028"/>
<path d="M123.5 1425.5l137 0-12.5-9.5-16-9.5-15-7-17-6-18.5-5-19-3.5-18.5-2.5-20.5-0.5z" fill="#d2bf27"/>
<path d="M123.5 1425.5l133 0-13-9.5-15.5-9-15-7-16.5-6-17-4.5-18.5-3.5-19-2-18.5-0.5z" fill="#d7be28"/>
<path d="M123.5 1425.5l129 0-13-9.5-13.5-8-15-7-15-5.5-17.5-4.5-17.5-3.5-19-2-18.5-1z" fill="#dbbd29"/>
<path d="M123.5 1425.5l124.5 0-13-9.5-13.5-8-13.5-6-15.5-5.5-17-4.5-16.5-3.5-17-1.5-18.5-1z" fill="#e0bc2a"/>
<path d="M123.5 1425.5l120.5 0-11-8-13-8-14.5-6.5-15-5.5-15-4-16.5-3.5-17-2-18.5-0.5z" fill="#e5bb2c"/>
<path d="M123.5 1425.5l116.5 0-11-8-13.5-8-13.5-6-13-5-15-4-17-3-17-2-16.5-0.5z" fill="#e9bb30"/>
<path d="M123.5 1425.5l112 0-10.5-8-14-8-13-5.5-13-5-15-3.5-15-3-15-1.5-16.5-1z" fill="#edba33"/>
<path d="M123.5 1425.5l108 0-11-8-10.5-6-13.5-6.5-13.5-4.5-15-4-14.5-3-15-1.5-15-0.5z" fill="#f1ba37"/>
<path d="M123.5 1425.5l104 0-11-8-11-6-11-5.5-13-4.5-13.5-3.5-14.5-3-15-1.5-15-0.5z" fill="#f5ba3a"/>
<path d="M123.5 1425.5l99.5 0-8.5-6.5-11-6.5-11-5-13-5-13-3.5-15-2.5-13-1.5-15-0.5z" fill="#f8ba3d"/>
<path d="M123.5 1425.5l95.5 0-8.5-6.5-11-6-10.5-5-12.5-4.5-12-3.5-13-2.5-13-1.5-15-0.5z" fill="#fbbc3d"/>
<path d="M123.5 1425.5l91.5 0-9-6.5-11-6-10-5-11-3.5-11.5-3-13-2.5-13-1.5-13-0.5z" fill="#febd3c"/>
<path d="M123.5 1425.5l87.5 0-9-6.5-8-4.5-10-5-12-4-11-3-13.5-2.5-11-1-13-0.5z" fill="#fec03b"/>
<path d="M123.5 1425.5l83 0-8.5-6.5-8.5-4.5-10-4.5-9.5-3.5-11-3-11.5-2-11-1.5-13-0.5z" fill="#fec239"/>
<path d="M123.5 1425.5l79 0-6.5-5-9-5-8.5-4-10.5-4-11-3-11-2-11.5-1-11-0.5z" fill="#fec537"/>
<path d="M123.5 1425.5l75 0-6.5-5-9-5-9-4-9.5-3.5-9.5-2.5-11-2-9.5-1-11 0z" fill="#fec835"/>
<path d="M123.5 1425.5l71 0-6.5-5-8.5-4.5-7.5-3.5-9.5-3.5-9-2-9.5-2-9.5-1-11-0.5z" fill="#fdca33"/>
<path d="M123.5 1425.5l66.5 0-6.5-5-6-3.5-7.5-3.5-9-3-9.5-2.5-9.5-2-9.5-1-9 0z" fill="#fdcd31"/>
<path d="M123.5 1425.5l62.5 0-6.5-5-5.5-3-7-3-8.5-3-9-2.5-7.5-1.5-9.5-1-9-0.5z" fill="#fcd030"/>
<path d="M123.5 1425.5l58.5 0-6.5-5-6-3-7-3-7.5-2.5-15-3.5-16.5-1z" fill="#fbd32e"/>
<path d="M123.5 1425.5l54.5 0-6-4.5-5.5-3-13-5-15-3-15-1.5z" fill="#fad62d"/>
<path d="M123.5 1425.5l50.5 0-10-6.5-7-3-5.5-2-13-3-15-1z" fill="#f8d92c"/>
<path d="M123.5 1425.5l46.5 0-4.5-3-6-3.5-10-4-13-3-13-0.5z" fill="#f7dc2a"/>
<path d="M123.5 1425.5l42 0-8.5-5.5-10-4-10.5-2.5-13-1z" fill="#f6de29"/>
<path d="M123.5 1425.5l38 0-7.5-5-10-4-9.5-2-11-0.5z" fill="#f5e128"/>
<path d="M123.5 1425.5l34 0-7.5-5-8-3-9.5-2-9-0.5z" fill="#f5e427"/>
<path d="M123.5 1425.5l30 0-6-4-7.5-3-7.5-1.5-9-0.5z" fill="#f5e725"/>
<path d="M123.5 1425.5l26 0-5-3-6-2.5-7.5-2-7.5-0.5z" fill="#f5ea24"/>
<path d="M123.5 1425.5l22 0-5.5-3-4-2-7-1.5-5.5 0z" fill="#f5ec22"/>
<path d="M123.5 1425.5l18 0-5-3-4-1-3.5-1-5.5-0.5z" fill="#f6ef20"/>
<path d="M123.5 1425.5l13.5 0-2-1.5-4-1.5-7.5-1z" fill="#f6f21e"/>
<path d="M123.5 1425.5l9.5 0-4-2-5.5-1z" fill="#f7f41c"/>
<path d="M123.5 1425.5l5.5 0-3.5-1.5-2-0.5z" fill="#f8f719"/></g>
<polyline points="123.4,1030.4 135.9,1030.5 148.3,1030.7 160.8,1031 173.2,1031.5 185.7,1032.1 198.1,1032.8 210.6,1033.7 223,1034.7 235.5,1035.8 248,1037 260.4,1038.4 272.9,1039.9 285.3,1041.6 297.8,1043.4 310.2,1045.3 322.7,1047.4 335.1,1049.6 347.6,1051.9 360,1054.4 372.5,1057 385,1059.7 397.4,1062.6 409.9,1065.6 422.3,1068.7 434.8,1072 447.2,1075.5 459.7,1079.1 472.1,1082.8 484.6,1086.7 497.1,1090.7 509.5,1094.9 522,1099.2 534.4,1103.7 546.9,1108.3 559.3,1113.1 571.8,1118 584.2,1123.1 596.7,1128.4 609.1,1133.8 621.6,1139.4 634.1,1145.2 646.5,1151.1 659,1157.2 671.4,1163.5 683.9,1170 696.3,1176.7 708.8,1183.5 721.2,1190.5 733.7,1197.7 746.2,1205.1 758.6,1212.7 771.1,1220.5 783.5,1228.4 796,1236.5 808.4,1244.8 820.9,1253.2 833.3,1261.7 845.8,1270.4 858.2,1279.1 870.7,1288" fill="none" stroke="#f20d18" stroke-width="4.8"/>
<rect x="123.4" y="797.5" width="747.3" height="627.9" fill="none" stroke="#1c1c1c" stroke-width="2.9"/>
<text x="123.4" y="1467.3" font-size="30.2" text-anchor="middle" fill="#222">0</text>
<text x="248" y="1467.3" font-size="30.2" text-anchor="middle" fill="#222">0.2</text>
<text x="372.5" y="1467.3" font-size="30.2" text-anchor="middle" fill="#222">0.4</text>
<text x="497.1" y="1467.3" font-size="30.2" text-anchor="middle" fill="#222">0.6</text>
<text x="621.6" y="1467.3" font-size="30.2" text-anchor="middle" fill="#222">0.8</text>
<text x="746.2" y="1467.3" font-size="30.2" text-anchor="middle" fill="#222">1</text>
<text x="870.7" y="1467.3" font-size="30.2" text-anchor="middle" fill="#222">1.2</text>
<text x="114" y="1436.2" font-size="30.2" text-anchor="end" fill="#222">0</text>
<text x="114" y="1317.1" font-size="30.2" text-anchor="end" fill="#222">0.4</text>
<text x="114" y="1198" font-size="30.2" text-anchor="end" fill="#222">0.8</text>
<text x="114" y="1078.9" font-size="30.2" text-anchor="end" fill="#222">1.2</text>
<text x="114" y="959.9" font-size="30.2" text-anchor="end" fill="#222">1.6</text>
<text x="114" y="840.8" font-size="30.2" text-anchor="end" fill="#222">2</text>
<text x="498" y="1502" font-size="34.2" text-anchor="middle" fill="#222">Normalized Height,<tspan font-style="italic">h/R</tspan></text>
<text transform="translate(56.4,1126.5) rotate(-90)" font-size="34.2" text-anchor="middle" fill="#222">Torsion angle,<tspan font-style="italic">φ</tspan>(rad)</text>
<line x1="147.5" y1="854.3" x2="223.5" y2="854.3" stroke="#f20d18" stroke-width="5"/>
<text x="231" y="846.5" font-size="30.7" text-anchor="start" fill="#15152a">minmum energy</text>
<text x="231" y="886.5" font-size="30.7" text-anchor="start" fill="#15152a">deployment path</text>
<rect x="912.2" y="800.3" width="41.2" height="623.2" fill="url(#cb)" stroke="#333" stroke-width="1"/>
<line x1="947.4" y1="1367" x2="953.4" y2="1367" stroke="#333" stroke-width="1"/>
<text x="963.8" y="1377.7" font-size="26.5" text-anchor="start" fill="#222">0.1</text>
<line x1="947.4" y1="1311.6" x2="953.4" y2="1311.6" stroke="#333" stroke-width="1"/>
<text x="963.8" y="1322.3" font-size="26.5" text-anchor="start" fill="#222">0.2</text>
<line x1="947.4" y1="1256.2" x2="953.4" y2="1256.2" stroke="#333" stroke-width="1"/>
<text x="963.8" y="1266.9" font-size="26.5" text-anchor="start" fill="#222">0.3</text>
<line x1="947.4" y1="1200.8" x2="953.4" y2="1200.8" stroke="#333" stroke-width="1"/>
<text x="963.8" y="1211.5" font-size="26.5" text-anchor="start" fill="#222">0.4</text>
<line x1="947.4" y1="1145.4" x2="953.4" y2="1145.4" stroke="#333" stroke-width="1"/>
<text x="963.8" y="1156.1" font-size="26.5" text-anchor="start" fill="#222">0.5</text>
<line x1="947.4" y1="1090" x2="953.4" y2="1090" stroke="#333" stroke-width="1"/>
<text x="963.8" y="1100.7" font-size="26.5" text-anchor="start" fill="#222">0.6</text>
<line x1="947.4" y1="1034.6" x2="953.4" y2="1034.6" stroke="#333" stroke-width="1"/>
<text x="963.8" y="1045.3" font-size="26.5" text-anchor="start" fill="#222">0.7</text>
<line x1="947.4" y1="979.2" x2="953.4" y2="979.2" stroke="#333" stroke-width="1"/>
<text x="963.8" y="989.9" font-size="26.5" text-anchor="start" fill="#222">0.8</text>
<line x1="947.4" y1="923.8" x2="953.4" y2="923.8" stroke="#333" stroke-width="1"/>
<text x="963.8" y="934.5" font-size="26.5" text-anchor="start" fill="#222">0.9</text>
<line x1="947.4" y1="868.4" x2="953.4" y2="868.4" stroke="#333" stroke-width="1"/>
<text x="963.8" y="879.1" font-size="26.5" text-anchor="start" fill="#222">1</text>
<line x1="947.4" y1="813" x2="953.4" y2="813" stroke="#333" stroke-width="1"/>
<text x="963.8" y="823.7" font-size="26.5" text-anchor="start" fill="#222">1.1</text>
<text x="25" y="798" font-size="45" fill="#222">(<tspan font-style="italic" dx="1.5">b</tspan><tspan dx="1.5">)</tspan></text>
</g>
<g id="pc" font-family="'Liberation Serif','Times New Roman',serif">
<rect x="173.7" y="2028.8" width="315.8" height="138.2" fill="#f9f9f9"/>
<rect x="553.7" y="1825.6" width="320.9" height="215.1" fill="#f5f6f6"/>
<defs><radialGradient id="sh2" cx=".5" cy=".5" r=".5"><stop offset="0" stop-color="#c4d3d1" stop-opacity=".8"/><stop offset=".6" stop-color="#dde6e5" stop-opacity=".5"/><stop offset="1" stop-color="#f5f6f6" stop-opacity="0"/></radialGradient><radialGradient id="sh1" cx=".5" cy=".5" r=".5"><stop offset="0" stop-color="#d4dada" stop-opacity=".75"/><stop offset="1" stop-color="#f7f7f7" stop-opacity="0"/></radialGradient><linearGradient id="in2" x1="0" y1="0" x2="0" y2="1"><stop offset="0" stop-color="#9ad3cd"/><stop offset="1" stop-color="#82b9b4"/></linearGradient><linearGradient id="lf2" x1="0" y1="0" x2="1" y2="1"><stop offset="0" stop-color="#8cc8c2"/><stop offset="1" stop-color="#80bab5"/></linearGradient></defs>
<ellipse cx="728" cy="2004" rx="150" ry="34" fill="url(#sh2)"/>
<g stroke-width=".6" stroke-linejoin="round">
<polygon points="609.0,1870.6 678.8,1849.0 786.6,1855.4 828.5,1885.8 760.0,1908.6 647.1,1903.6" fill="url(#in2)" stroke="none"/>
<polygon points="609.0,1870.6 678.8,1849.0 661.0,1901.0 647.1,1903.6" fill="#94d1cb" stroke="#94d1cb"/>
<polygon points="786.6,1855.4 828.5,1885.8 760.0,1908.6 743.5,1907.4" fill="#93d0c9" stroke="#93d0c9"/>
<polygon points="786.6,1855.4 743.5,1907.4 709.2,1904.8" fill="#86c0ba" stroke="#86c0ba"/>
<polygon points="609.0,1870.6 719.4,2019.0 617.9,2002.5" fill="url(#lf2)" stroke="none"/>
<polygon points="609.0,1870.6 647.1,1903.6 719.4,2019.0" fill="#8dc9c3" stroke="#8dc9c3"/>
<polygon points="647.1,1903.6 814.5,1998.7 719.4,2019.0" fill="#8cc8c2" stroke="#8cc8c2"/>
<polygon points="647.1,1903.6 760.0,1908.6 807.7,1959.9 814.5,1998.7" fill="#9ad7d0" stroke="#9ad7d0"/>
<polygon points="760.0,1908.6 828.5,1885.8 807.7,1959.9" fill="#9bd6cf" stroke="#9bd6cf"/>
</g>
<g stroke="#f8edcb" stroke-width="2.2" stroke-linecap="round" fill="none">
<line x1="609.0" y1="1870.6" x2="678.8" y2="1849.0"/>
<line x1="678.8" y1="1849.0" x2="786.6" y2="1855.4"/>
<line x1="786.6" y1="1855.4" x2="828.5" y2="1885.8"/>
<line x1="828.5" y1="1885.8" x2="760.0" y2="1908.6"/>
<line x1="760.0" y1="1908.6" x2="647.1" y2="1903.6"/>
<line x1="647.1" y1="1903.6" x2="609.0" y2="1870.6"/>
<line x1="678.8" y1="1849.0" x2="661.0" y2="1901.0"/>
<line x1="786.6" y1="1855.4" x2="743.5" y2="1907.4"/>
<line x1="609.0" y1="1870.6" x2="719.4" y2="2019.0"/>
<line x1="609.0" y1="1870.6" x2="617.9" y2="2002.5"/>
<line x1="617.9" y1="2002.5" x2="719.4" y2="2019.0"/>
<line x1="719.4" y1="2019.0" x2="814.5" y2="1998.7"/>
<line x1="814.5" y1="1998.7" x2="807.7" y2="1959.9"/>
<line x1="807.7" y1="1959.9" x2="828.5" y2="1885.8"/>
</g>
<g stroke="#f8edcb" stroke-width="2.5" fill="none" stroke-dasharray="8 3.5">
<line x1="647.1" y1="1903.6" x2="814.5" y2="1998.7"/>
<line x1="627.0" y1="1903.3" x2="699.9" y2="2001.2"/>
<line x1="760.0" y1="1908.6" x2="807.7" y2="1959.9"/>
<line x1="786.6" y1="1855.4" x2="709.2" y2="1904.8"/>
</g>
<ellipse cx="335" cy="2120" rx="135" ry="24" fill="url(#sh1)"/>
<g stroke="#f8edcb" stroke-width="1.8" stroke-linejoin="round" fill-rule="evenodd">
<path d="M217.3,2115.1 L310.2,2140.5 L386.7,2130.7 L430.4,2119.2 L437.2,2108.3 L381.2,2067.3 L255.6,2075.5 Z M281.5,2097.4 L323.8,2081.0 L368.9,2083.7 L385.3,2101.5 L348.4,2113.8 L299.3,2111.6 Z" fill="#76bfb5"/>
<path d="M210.5,2105.0 L255.6,2068.7 L381.2,2059.7 L453.6,2089.2 L416.7,2121.9 L291.1,2137.0 Z M281.5,2097.4 L323.8,2081.0 L368.9,2083.7 L385.3,2101.5 L348.4,2113.8 L299.3,2111.6 Z" fill="#82d0c6"/>
</g>
<g stroke="#f8edcb" stroke-width="1.8" fill="none" stroke-linecap="round">
<line x1="261.6" y1="2071.4" x2="274.7" y2="2087.8"/>
<line x1="387.2" y1="2102.3" x2="405.8" y2="2120.6"/>
<g stroke-dasharray="12 6">
<line x1="228.2" y1="2106.9" x2="281.5" y2="2111.0"/>
<line x1="368.9" y1="2084.3" x2="435.8" y2="2085.9"/>
<line x1="323.8" y1="2081.0" x2="360.7" y2="2065.9"/>
<line x1="299.3" y1="2132.9" x2="338.9" y2="2117.3"/>
</g></g>
<polyline points="129.8,2272 133.4,2272 137,2272 140.6,2272 144.2,2272 147.8,2272 151.4,2272 155,2272 158.6,2272 162.2,2272 165.9,2272 169.5,2272 173.1,2272 176.7,2272 180.3,2272 183.9,2272 187.5,2272 191.1,2272 194.7,2272 198.3,2272 201.9,2271.9 205.5,2271.9 209.1,2271.9 212.7,2271.9 216.3,2271.9 219.9,2271.8 223.5,2271.8 227.1,2271.8 230.7,2271.8 234.3,2271.7 238,2271.7 241.6,2271.6 245.2,2271.6 248.8,2271.5 252.4,2271.5 256,2271.4 259.6,2271.3 263.2,2271.2 266.8,2271.2 270.4,2271.1 274,2271 277.6,2270.9 281.2,2270.7 284.8,2270.6 288.4,2270.5 292,2270.4 295.6,2270.2 299.2,2270.1 302.8,2269.9 306.4,2269.7 310.1,2269.5 313.7,2269.3 317.3,2269.1 320.9,2268.9 324.5,2268.7 328.1,2268.5 331.7,2268.2 335.3,2268 338.9,2267.7 342.5,2267.4 346.1,2267.1 349.7,2266.8 353.3,2266.5 356.9,2266.2 360.5,2265.8 364.1,2265.5 367.7,2265.1 371.3,2264.7 374.9,2264.3 378.5,2263.9 382.2,2263.5 385.8,2263.1 389.4,2262.7 393,2262.2 396.6,2261.7 400.2,2261.3 403.8,2260.8 407.4,2260.3 411,2259.7 414.6,2259.2 418.2,2258.7 421.8,2258.1 425.4,2257.6 429,2257 432.6,2256.4 436.2,2255.8 439.8,2255.2 443.4,2254.6 447,2253.9 450.6,2253.3 454.3,2252.7 457.9,2252 461.5,2251.3 465.1,2250.7 468.7,2250 472.3,2249.3 475.9,2248.6 479.5,2247.9 483.1,2247.2 486.7,2246.5 490.3,2245.8 493.9,2245.1 497.5,2244.4 501.1,2243.7 504.7,2243 508.3,2242.3 511.9,2241.6 515.5,2240.8 519.1,2240.1 522.7,2239.4 526.4,2238.7 530,2238.1 533.6,2237.4 537.2,2236.7 540.8,2236 544.4,2235.4 548,2234.7 551.6,2234.1 555.2,2233.5 558.8,2232.9 562.4,2232.3 566,2231.7 569.6,2231.1 573.2,2230.6 576.8,2230.1 580.4,2229.6 584,2229.1 587.6,2228.7 591.2,2228.2 594.8,2227.8 598.5,2227.5 602.1,2227.1 605.7,2226.8 609.3,2226.5 612.9,2226.3 616.5,2226 620.1,2225.9 623.7,2225.7 627.3,2225.6 630.9,2225.5 634.5,2225.5 638.1,2225.5 641.7,2225.5 645.3,2225.6 648.9,2225.7 652.5,2225.9 656.1,2226.1 659.7,2226.4 663.3,2226.7 666.9,2227 670.6,2227.4 674.2,2227.9 677.8,2228.4 681.4,2228.9 685,2229.5 688.6,2230.1 692.2,2230.8 695.8,2231.5 699.4,2232.3 703,2233.1 706.6,2234 710.2,2234.9 713.8,2235.9 717.4,2236.9 721,2237.9 724.6,2239 728.2,2240.1 731.8,2241.3 735.4,2242.5 739,2243.7 742.7,2244.9 746.3,2246.2 749.9,2247.5 753.5,2248.9 757.1,2250.2 760.7,2251.6 764.3,2252.9 767.9,2254.3 771.5,2255.7 775.1,2257.1 778.7,2258.4 782.3,2259.8 785.9,2261.1 789.5,2262.4 793.1,2263.6 796.7,2264.8 800.3,2265.9 803.9,2267 807.5,2268 811.1,2268.9 814.8,2269.7 818.4,2270.5 822,2271.1 825.6,2271.5 829.2,2271.8 832.8,2272 836.4,2272 840,2271.8 843.6,2271.3 847.2,2270.7 850.8,2269.8 854.4,2268.6 858,2267.2 861.6,2265.5 865.2,2263.4 868.8,2261 872.4,2258.2 876,2254.9 879.6,2251.3 883.2,2247.2 886.9,2242.6 890.5,2237.5 894.1,2231.9 897.7,2225.6 901.3,2218.8 904.9,2211.2 908.5,2203 912.1,2194.1 915.7,2184.3 919.3,2173.8 922.9,2162.3 926.5,2150 930.1,2136.7 933.7,2122.4 937.3,2107 940.9,2090.5 944.5,2072.8 948.1,2053.9 951.7,2033.7 955.3,2012.1 959,1989.1 962.6,1964.6 966.2,1938.6 969.8,1910.9 973.4,1881.5 977,1850.3 980.6,1817.3 984.2,1782.3 987.8,1745.4 991.4,1706.3 995,1665" fill="none" stroke="#0808e6" stroke-width="3" stroke-linejoin="round"/>
<polygon points="140.6,2272 153.6,2258 166.6,2272" fill="#f0101a"/>
<polygon points="819.8,2272 832.8,2258 845.8,2272" fill="#f0101a"/>
<rect x="129.8" y="1575.2" width="865.2" height="696.8" fill="none" stroke="#111" stroke-width="2.6"/>
<line x1="129.8" y1="2272" x2="129.8" y2="2259" stroke="#000" stroke-width="2"/>
<line x1="201.9" y1="2272" x2="201.9" y2="2265" stroke="#000" stroke-width="2"/>
<line x1="274" y1="2272" x2="274" y2="2259" stroke="#000" stroke-width="2"/>
<line x1="346.1" y1="2272" x2="346.1" y2="2265" stroke="#000" stroke-width="2"/>
<line x1="418.2" y1="2272" x2="418.2" y2="2259" stroke="#000" stroke-width="2"/>
<line x1="490.3" y1="2272" x2="490.3" y2="2265" stroke="#000" stroke-width="2"/>
<line x1="562.4" y1="2272" x2="562.4" y2="2259" stroke="#000" stroke-width="2"/>
<line x1="634.5" y1="2272" x2="634.5" y2="2265" stroke="#000" stroke-width="2"/>
<line x1="706.6" y1="2272" x2="706.6" y2="2259" stroke="#000" stroke-width="2"/>
<line x1="778.7" y1="2272" x2="778.7" y2="2265" stroke="#000" stroke-width="2"/>
<line x1="850.8" y1="2272" x2="850.8" y2="2259" stroke="#000" stroke-width="2"/>
<line x1="922.9" y1="2272" x2="922.9" y2="2265" stroke="#000" stroke-width="2"/>
<line x1="995" y1="2272" x2="995" y2="2259" stroke="#000" stroke-width="2"/>
<line x1="129.8" y1="2272" x2="142.8" y2="2272" stroke="#000" stroke-width="2"/>
<line x1="129.8" y1="2194.4" x2="136.8" y2="2194.4" stroke="#000" stroke-width="2"/>
<line x1="129.8" y1="2116.9" x2="142.8" y2="2116.9" stroke="#000" stroke-width="2"/>
<line x1="129.8" y1="2039.3" x2="136.8" y2="2039.3" stroke="#000" stroke-width="2"/>
<line x1="129.8" y1="1961.8" x2="142.8" y2="1961.8" stroke="#000" stroke-width="2"/>
<line x1="129.8" y1="1884.2" x2="136.8" y2="1884.2" stroke="#000" stroke-width="2"/>
<line x1="129.8" y1="1806.7" x2="142.8" y2="1806.7" stroke="#000" stroke-width="2"/>
<line x1="129.8" y1="1729.2" x2="136.8" y2="1729.2" stroke="#000" stroke-width="2"/>
<line x1="129.8" y1="1651.6" x2="142.8" y2="1651.6" stroke="#000" stroke-width="2"/>
<text x="129.8" y="2314.7" font-size="36" text-anchor="middle" fill="#000">0.0</text>
<text x="274" y="2314.7" font-size="36" text-anchor="middle" fill="#000">0.2</text>
<text x="418.2" y="2314.7" font-size="36" text-anchor="middle" fill="#000">0.4</text>
<text x="562.4" y="2314.7" font-size="36" text-anchor="middle" fill="#000">0.6</text>
<text x="706.6" y="2314.7" font-size="36" text-anchor="middle" fill="#000">0.8</text>
<text x="850.8" y="2314.7" font-size="36" text-anchor="middle" fill="#000">1.0</text>
<text x="995" y="2314.7" font-size="36" text-anchor="middle" fill="#000">1.2</text>
<text x="114.5" y="2284.2" font-size="36" text-anchor="end" fill="#000">0.0</text>
<text x="114.5" y="2129.1" font-size="36" text-anchor="end" fill="#000">0.5</text>
<text x="114.5" y="1974" font-size="36" text-anchor="end" fill="#000">1.0</text>
<text x="114.5" y="1818.9" font-size="36" text-anchor="end" fill="#000">1.5</text>
<text x="114.5" y="1663.8" font-size="36" text-anchor="end" fill="#000">2.0</text>
<text x="131.5" y="1565.8" font-size="34.5" fill="#000">×10<tspan font-size="24" dy="-12.8">-3</tspan></text>
<text x="594" y="2364" font-size="35.8" text-anchor="middle" fill="#000">Normalized height, <tspan font-style="italic">h/R</tspan></text>
<text transform="translate(39,1941.7) rotate(-90)" font-size="36.4" text-anchor="middle" fill="#000">Normalized energy, <tspan font-style="italic">U</tspan>/<tspan font-style="italic">kR</tspan><tspan font-size="23" dy="-13">2</tspan></text>
<text x="335" y="2204.6" font-size="42.5" text-anchor="middle" fill="#000">1st stable state</text>
<text x="716.7" y="2080" font-size="42.9" text-anchor="middle" fill="#000">2nd stable state</text>
<text x="25" y="1566.5" font-size="45" fill="#222" font-family="'Liberation Sans',Arial,sans-serif">(<tspan font-style="italic" dx="1.5">c</tspan><tspan dx="1.5">)</tspan></text>
</g>
</svg></body></html>
